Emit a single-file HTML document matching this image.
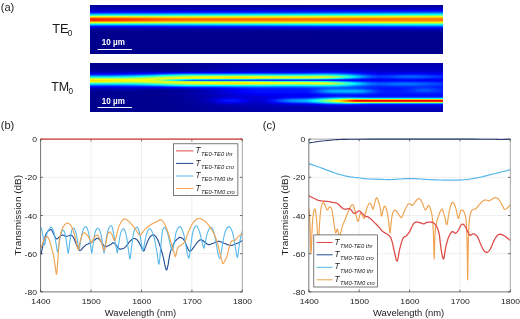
<!DOCTYPE html>
<html><head><meta charset="utf-8"><title>Figure</title>
<style>
html,body{margin:0;padding:0;background:#fff}
body{width:520px;height:319px;position:relative;overflow:hidden;font-family:"Liberation Sans", Arial, sans-serif}
.h{position:absolute;left:90px;width:353px;height:49px}
.h i{display:block;height:1px;width:353px}
svg text{font-family:"Liberation Sans", Arial, sans-serif}
</style></head><body>
<div class="h" style="top:5px"><i style="background:linear-gradient(90deg,#00009a 0%,#00009a 35.71%,#00009b 42.86%,#00009b 71.43%,#00009c 78.57%,#00009c 92.86%,#00009d 100%)"></i><i style="background:linear-gradient(90deg,#0000a0 0%,#0000a0 28.57%,#0000a1 35.71%,#0000a1 50%,#0000a2 57.14%,#0000a2 64.29%,#0000a3 71.43%,#0000a3 78.57%,#0000a4 85.71%,#0000a4 92.86%,#0000a5 100%)"></i><i style="background:linear-gradient(90deg,#0000a7 0%,#0000a7 14.29%,#0000a8 21.43%,#0000a8 28.57%,#0000a9 35.71%,#0000a9 42.86%,#0000aa 50%,#0000ab 57.14%,#0000ac 64.29%,#0000ad 71.43%,#0000ae 78.57%,#0000af 85.71%,#0000b0 92.86%,#0000b1 100%)"></i><i style="background:linear-gradient(90deg,#0000af 0%,#0000b0 7.143%,#0000b1 14.29%,#0000b2 21.43%,#0000b2 28.57%,#0000b4 35.71%,#0000b5 42.86%,#0000b6 50%,#0000b7 57.14%,#0000b9 64.29%,#0000ba 71.43%,#0000bc 78.57%,#0000be 85.71%,#0000c0 92.86%,#0000c1 100%)"></i><i style="background:linear-gradient(90deg,#0000bb 0%,#0000bd 7.143%,#0000be 14.29%,#0000bf 21.43%,#0000c1 28.57%,#0000c3 35.71%,#0000c5 42.86%,#0000c7 50%,#0000c9 57.14%,#0000cc 64.29%,#0000ce 71.43%,#0000d1 78.57%,#0000d3 85.71%,#0000d6 92.86%,#0000d9 100%)"></i><i style="background:linear-gradient(90deg,#0000ce 0%,#0000d0 7.143%,#0000d2 14.29%,#0000d4 21.43%,#0000d7 28.57%,#0000da 35.71%,#0000dd 42.86%,#0000e0 50%,#0000e4 57.14%,#0000e7 64.29%,#0000eb 71.43%,#0000ef 78.57%,#0000f2 85.71%,#0000f6 92.86%,#0000fa 100%)"></i><i style="background:linear-gradient(90deg,#0000ec 0%,#0000f0 7.143%,#0000f2 14.29%,#0000f5 21.43%,#0000f9 28.57%,#0000fd 35.71%,#0003ff 42.86%,#0007ff 50%,#000cff 57.14%,#0011ff 64.29%,#0015ff 71.43%,#001aff 78.57%,#001fff 85.71%,#0024ff 92.86%,#0029ff 100%)"></i><i style="background:linear-gradient(90deg,#001dff 0%,#0022ff 7.143%,#0025ff 14.29%,#0028ff 21.43%,#002cff 28.57%,#0032ff 35.71%,#0038ff 42.86%,#003eff 50%,#0044ff 57.14%,#004aff 64.29%,#004fff 71.43%,#0055ff 78.57%,#005bff 85.71%,#0061ff 92.86%,#0067ff 100%)"></i><i style="background:linear-gradient(90deg,#0067ff 0%,#006cff 7.143%,#006eff 14.29%,#0070ff 21.43%,#0075ff 28.57%,#007cff 35.71%,#0082ff 42.86%,#0089ff 50%,#008fff 57.14%,#0096ff 64.29%,#009cff 71.43%,#00a3ff 78.57%,#00a9ff 85.71%,#00afff 92.86%,#00b5ff 100%)"></i><i style="background:linear-gradient(90deg,#00cdff 0%,#00d1ff 7.143%,#00d1ff 21.43%,#00d4ff 28.57%,#00dbff 35.71%,#00e2ff 42.86%,#00e8ff 50%,#00efff 57.14%,#00f5ff 64.29%,#00fbff 71.43%,#02fffd 78.57%,#08fff7 85.71%,#0dfff2 92.86%,#13ffec 100%)"></i><i style="background:linear-gradient(90deg,#4cffb3 0%,#4effb1 7.143%,#4affb5 14.29%,#45ffba 21.43%,#46ffb9 28.57%,#4cffb3 35.71%,#52ffad 42.86%,#57ffa8 50%,#5dffa2 57.14%,#62ff9d 64.29%,#67ff98 71.43%,#6bff94 78.57%,#70ff8f 85.71%,#74ff8b 92.86%,#78ff87 100%)"></i><i style="background:linear-gradient(90deg,#d7ff28 0%,#d5ff2a 7.143%,#cbff34 14.29%,#c1ff3e 21.43%,#beff41 28.57%,#c2ff3d 35.71%,#c6ff39 42.86%,#c9ff36 50%,#ccff33 57.14%,#d0ff2f 64.29%,#d3ff2c 71.43%,#d5ff2a 78.57%,#d8ff27 85.71%,#dbff24 92.86%,#ddff22 100%)"></i><i style="background:linear-gradient(90deg,#ffa600 0%,#ffac00 7.143%,#ffbc00 14.29%,#ffcc00 21.43%,#ffd300 28.57%,#ffd100 35.71%,#ffd000 42.86%,#ffcf00 50%,#ffce00 57.14%,#ffcd00 64.29%,#ffcc00 71.43%,#ffcc00 78.57%,#ffcb00 85.71%,#ffcb00 92.86%,#ffca00 100%)"></i><i style="background:linear-gradient(90deg,#ff4700 0%,#ff5100 7.143%,#ff6500 14.29%,#ff7a00 21.43%,#ff8400 28.57%,#ff8500 35.71%,#ff8500 42.86%,#ff8600 50%,#ff8700 57.14%,#ff8800 64.29%,#ff8900 71.43%,#ff8a00 78.57%,#ff8b00 85.71%,#ff8c00 92.86%,#ff8e00 100%)"></i><i style="background:linear-gradient(90deg,#ff1f00 0%,#ff2a00 7.143%,#ff4100 14.29%,#ff5800 21.43%,#ff6300 28.57%,#ff6500 35.71%,#ff6700 42.86%,#ff6800 50%,#ff6a00 57.14%,#ff6c00 64.29%,#ff6e00 71.43%,#ff7000 78.57%,#ff7100 85.71%,#ff7300 92.86%,#ff7500 100%)"></i><i style="background:linear-gradient(90deg,#ff3700 0%,#ff4200 7.143%,#ff5800 14.29%,#ff6e00 21.43%,#ff7800 28.57%,#ff7900 35.71%,#ff7a00 42.86%,#ff7c00 50%,#ff7d00 57.14%,#ff7e00 64.29%,#ff8000 71.43%,#ff8100 78.57%,#ff8200 85.71%,#ff8400 92.86%,#ff8500 100%)"></i><i style="background:linear-gradient(90deg,#ff8c00 0%,#ff9300 7.143%,#ffa500 14.29%,#ffb700 21.43%,#ffbe00 28.57%,#ffbe00 35.71%,#ffbd00 42.86%,#ffbd00 50%,#ffbc00 57.14%,#ffbc00 100%)"></i><i style="background:linear-gradient(90deg,#f4ff0b 0%,#f1ff0e 7.143%,#e5ff1a 14.29%,#d9ff26 21.43%,#d5ff2a 28.57%,#d8ff27 35.71%,#dbff24 42.86%,#deff21 50%,#e0ff1f 57.14%,#e3ff1c 64.29%,#e5ff1a 71.43%,#e7ff18 78.57%,#e9ff16 85.71%,#ebff14 92.86%,#edff12 100%)"></i><i style="background:linear-gradient(90deg,#64ff9b 0%,#65ff9a 7.143%,#60ff9f 14.29%,#59ffa6 21.43%,#59ffa6 28.57%,#5fffa0 35.71%,#64ff9b 42.86%,#69ff96 50%,#6dff92 57.14%,#72ff8d 64.29%,#76ff89 71.43%,#7aff85 78.57%,#7fff80 85.71%,#82ff7d 92.86%,#86ff79 100%)"></i><i style="background:linear-gradient(90deg,#00daff 0%,#00deff 7.143%,#00ddff 14.29%,#00dbff 21.43%,#00deff 28.57%,#00e5ff 35.71%,#00ebff 42.86%,#00f1ff 50%,#00f8ff 57.14%,#00feff 64.29%,#04fffb 71.43%,#0afff5 78.57%,#10ffef 85.71%,#15ffea 92.86%,#1affe5 100%)"></i><i style="background:linear-gradient(90deg,#0067ff 0%,#006cff 7.143%,#006eff 14.29%,#006fff 21.43%,#0073ff 28.57%,#007aff 35.71%,#0081ff 42.86%,#0088ff 50%,#008eff 57.14%,#0095ff 64.29%,#009bff 71.43%,#00a1ff 78.57%,#00a8ff 85.71%,#00aeff 92.86%,#00b3ff 100%)"></i><i style="background:linear-gradient(90deg,#0010ff 0%,#0015ff 7.143%,#0018ff 14.29%,#001bff 21.43%,#001fff 28.57%,#0026ff 35.71%,#002cff 42.86%,#0032ff 50%,#0038ff 57.14%,#003eff 64.29%,#0044ff 71.43%,#004aff 78.57%,#0050ff 85.71%,#0056ff 92.86%,#005cff 100%)"></i><i style="background:linear-gradient(90deg,#0000d5 0%,#0000d9 7.143%,#0000dc 14.29%,#0000df 21.43%,#0000e3 28.57%,#0000e8 35.71%,#0000ed 42.86%,#0000f2 50%,#0000f7 57.14%,#0000fc 64.29%,#0002ff 71.43%,#0007ff 78.57%,#000cff 85.71%,#0012ff 92.86%,#0017ff 100%)"></i><i style="background:linear-gradient(90deg,#0000b2 0%,#0000b4 7.143%,#0000b7 14.29%,#0000b9 21.43%,#0000bc 28.57%,#0000bf 35.71%,#0000c3 42.86%,#0000c7 50%,#0000ca 57.14%,#0000ce 64.29%,#0000d2 71.43%,#0000d6 78.57%,#0000da 85.71%,#0000de 92.86%,#0000e3 100%)"></i><i style="background:linear-gradient(90deg,#00009e 0%,#0000a0 7.143%,#0000a1 14.29%,#0000a3 21.43%,#0000a4 28.57%,#0000a7 35.71%,#0000a9 42.86%,#0000ac 50%,#0000ae 57.14%,#0000b1 64.29%,#0000b4 71.43%,#0000b6 78.57%,#0000b9 85.71%,#0000bc 92.86%,#0000c0 100%)"></i><i style="background:linear-gradient(90deg,#000094 0%,#000095 7.143%,#000096 14.29%,#000096 21.43%,#000098 28.57%,#000099 35.71%,#00009a 42.86%,#00009c 50%,#00009d 57.14%,#00009f 64.29%,#0000a1 71.43%,#0000a3 78.57%,#0000a5 85.71%,#0000a7 92.86%,#0000a9 100%)"></i><i style="background:linear-gradient(90deg,#00008f 0%,#00008f 7.143%,#000090 14.29%,#000090 21.43%,#000091 28.57%,#000092 35.71%,#000093 42.86%,#000093 50%,#000094 57.14%,#000095 64.29%,#000096 71.43%,#000097 78.57%,#000099 85.71%,#00009a 92.86%,#00009b 100%)"></i><i style="background:linear-gradient(90deg,#00008d 0%,#00008d 14.29%,#00008e 21.43%,#00008e 35.71%,#00008f 42.86%,#00008f 50%,#000090 57.14%,#000090 64.29%,#000091 71.43%,#000091 78.57%,#000092 85.71%,#000093 92.86%,#000094 100%)"></i><i style="background:linear-gradient(90deg,#00008c 0%,#00008c 21.43%,#00008d 28.57%,#00008d 57.14%,#00008e 64.29%,#00008e 78.57%,#00008f 85.71%,#00008f 100%)"></i><i style="background:linear-gradient(90deg,#00008c 0%,#00008c 57.14%,#00008d 64.29%,#00008d 100%)"></i><i style="background:#00008c"></i><i style="background:#00008c"></i><i style="background:#00008c"></i><i style="background:#00008c"></i><i style="background:#00008c"></i><i style="background:#00008c"></i><i style="background:#00008c"></i><i style="background:#00008c"></i><i style="background:#00008c"></i><i style="background:#00008c"></i><i style="background:#00008c"></i><i style="background:#00008c"></i><i style="background:#00008c"></i><i style="background:#00008c"></i><i style="background:#00008c"></i><i style="background:#00008c"></i><i style="background:#00008c"></i><i style="background:#00008c"></i><i style="background:#00008c"></i></div>
<div class="h" style="top:63px"><i style="background:linear-gradient(90deg,#00008f 0%,#00008f 18.18%,#000090 20.45%,#000091 22.73%,#000093 25%,#000096 27.27%,#000098 29.55%,#00009b 31.82%,#00009f 34.09%,#0000a2 36.36%,#0000a5 38.64%,#0000a8 40.91%,#0000aa 43.18%,#0000ad 45.45%,#0000ae 47.73%,#0000af 50%,#0000b0 52.27%,#0000b1 54.55%,#0000b2 56.82%,#0000b2 100%)"></i><i style="background:linear-gradient(90deg,#00008f 0%,#00008f 18.18%,#000090 20.45%,#000091 22.73%,#000093 25%,#000096 27.27%,#000099 29.55%,#00009c 31.82%,#0000a0 34.09%,#0000a3 36.36%,#0000a6 38.64%,#0000a9 40.91%,#0000ac 43.18%,#0000af 45.45%,#0000b0 47.73%,#0000b1 50%,#0000b3 52.27%,#0000b3 54.55%,#0000b4 56.82%,#0000b4 100%)"></i><i style="background:linear-gradient(90deg,#00008f 0%,#00008f 18.18%,#000090 20.45%,#000092 22.73%,#000094 25%,#000097 27.27%,#00009a 29.55%,#00009d 31.82%,#0000a1 34.09%,#0000a5 36.36%,#0000a8 38.64%,#0000ab 40.91%,#0000ae 43.18%,#0000b1 45.45%,#0000b2 47.73%,#0000b4 50%,#0000b5 52.27%,#0000b6 54.55%,#0000b6 100%)"></i><i style="background:linear-gradient(90deg,#00008f 0%,#00008f 6.818%,#000090 9.091%,#000090 11.36%,#00008f 13.64%,#00008f 18.18%,#000090 20.45%,#000092 22.73%,#000094 25%,#000097 27.27%,#00009b 29.55%,#00009e 31.82%,#0000a2 34.09%,#0000a6 36.36%,#0000aa 38.64%,#0000ad 40.91%,#0000b1 43.18%,#0000b3 45.45%,#0000b5 47.73%,#0000b6 50%,#0000b7 52.27%,#0000b8 54.55%,#0000b8 56.82%,#0000b9 59.09%,#0000b9 100%)"></i><i style="background:linear-gradient(90deg,#000090 0%,#000090 6.818%,#000091 9.091%,#000091 11.36%,#000090 13.64%,#00008f 15.91%,#00008f 18.18%,#000090 20.45%,#000092 22.73%,#000095 25%,#000098 27.27%,#00009c 29.55%,#0000a0 31.82%,#0000a4 34.09%,#0000a8 36.36%,#0000ac 38.64%,#0000b0 40.91%,#0000b3 43.18%,#0000b6 45.45%,#0000b7 47.73%,#0000b9 50%,#0000ba 52.27%,#0000bb 54.55%,#0000bb 100%)"></i><i style="background:linear-gradient(90deg,#000092 0%,#000092 6.818%,#000093 9.091%,#000093 11.36%,#000092 13.64%,#000091 15.91%,#000090 18.18%,#000091 20.45%,#000093 22.73%,#000095 25%,#000099 27.27%,#00009d 29.55%,#0000a1 31.82%,#0000a5 34.09%,#0000aa 36.36%,#0000ae 38.64%,#0000b2 40.91%,#0000b6 43.18%,#0000b8 45.45%,#0000ba 47.73%,#0000bb 50%,#0000bc 52.27%,#0000bd 54.55%,#0000be 56.82%,#0000be 100%)"></i><i style="background:linear-gradient(90deg,#000096 0%,#000096 4.545%,#000097 6.818%,#000098 9.091%,#000098 11.36%,#000097 13.64%,#000095 15.91%,#000093 18.18%,#000093 20.45%,#000095 22.73%,#000097 25%,#00009b 27.27%,#00009f 29.55%,#0000a3 31.82%,#0000a8 34.09%,#0000ad 36.36%,#0000b1 38.64%,#0000b5 40.91%,#0000b9 43.18%,#0000bc 45.45%,#0000be 47.73%,#0000bf 50%,#0000c0 52.27%,#0000c1 54.55%,#0000c1 56.82%,#0000c2 59.09%,#0000c2 63.64%,#0000c3 65.91%,#0000c3 75%,#0000c2 77.27%,#0000c2 79.55%,#0000c1 81.82%,#0000c1 100%)"></i><i style="background:linear-gradient(90deg,#00009d 0%,#00009d 4.545%,#00009f 6.818%,#0000a1 9.091%,#0000a2 11.36%,#0000a0 13.64%,#00009d 15.91%,#00009b 18.18%,#00009b 20.45%,#00009c 22.73%,#00009e 25%,#0000a1 27.27%,#0000a5 29.55%,#0000aa 31.82%,#0000ae 34.09%,#0000b3 36.36%,#0000b8 38.64%,#0000bc 40.91%,#0000c0 43.18%,#0000c3 45.45%,#0000c5 47.73%,#0000c6 50%,#0000c7 52.27%,#0000c8 54.55%,#0000c9 56.82%,#0000c9 59.09%,#0000ca 61.36%,#0000cb 63.64%,#0000cd 65.91%,#0000ce 68.18%,#0000ce 70.45%,#0000cd 72.73%,#0000cb 75%,#0000c9 77.27%,#0000c7 79.55%,#0000c6 81.82%,#0000c6 100%)"></i><i style="background:linear-gradient(90deg,#0000aa 0%,#0000aa 4.545%,#0000ad 6.818%,#0000b1 9.091%,#0000b3 11.36%,#0000b2 13.64%,#0000b0 15.91%,#0000ae 18.18%,#0000ae 20.45%,#0000b0 22.73%,#0000b4 25%,#0000b7 27.27%,#0000bb 29.55%,#0000bf 31.82%,#0000c3 34.09%,#0000c7 36.36%,#0000cc 38.64%,#0000d0 40.91%,#0000d4 43.18%,#0000d7 45.45%,#0000d9 47.73%,#0000d9 50%,#0000da 52.27%,#0000db 54.55%,#0000dc 56.82%,#0000dd 59.09%,#0000e0 61.36%,#0000e2 63.64%,#0000e6 65.91%,#0000e7 68.18%,#0000e6 70.45%,#0000e3 72.73%,#0000dd 75%,#0000d7 77.27%,#0000d2 79.55%,#0000ce 81.82%,#0000ce 84.09%,#0000cf 86.36%,#0000cf 95.45%,#0000ce 97.73%,#0000cd 100%)"></i><i style="background:linear-gradient(90deg,#0000c1 0%,#0000c1 4.545%,#0000c5 6.818%,#0000cb 9.091%,#0000cf 11.36%,#0000d0 13.64%,#0000d1 15.91%,#0000d3 18.18%,#0000d7 20.45%,#0000df 22.73%,#0000e6 25%,#0000ec 27.27%,#0000f0 29.55%,#0000f2 31.82%,#0000f4 34.09%,#0000f7 36.36%,#0000fa 38.64%,#0000ff 40.91%,#0003ff 43.18%,#0006ff 45.45%,#0007ff 47.73%,#0007ff 50%,#0006ff 52.27%,#0006ff 54.55%,#0007ff 56.82%,#000aff 59.09%,#000eff 61.36%,#0013ff 63.64%,#0018ff 65.91%,#001aff 68.18%,#0015ff 70.45%,#000bff 72.73%,#0000fd 75%,#0000ef 77.27%,#0000e3 79.55%,#0000dc 81.82%,#0000db 84.09%,#0000dd 86.36%,#0000df 88.64%,#0000e0 90.91%,#0000df 93.18%,#0000dd 95.45%,#0000db 97.73%,#0000d9 100%)"></i><i style="background:linear-gradient(90deg,#0000e6 0%,#0000e6 4.545%,#0000eb 6.818%,#0000f3 9.091%,#0000fa 11.36%,#0000ff 13.64%,#0007ff 15.91%,#0011ff 18.18%,#001fff 20.45%,#0030ff 22.73%,#0040ff 25%,#004aff 27.27%,#004eff 29.55%,#004cff 31.82%,#004aff 34.09%,#004aff 36.36%,#004dff 38.64%,#0051ff 40.91%,#0054ff 43.18%,#0055ff 45.45%,#0054ff 47.73%,#0053ff 50%,#0051ff 52.27%,#0050ff 54.55%,#0051ff 56.82%,#0054ff 59.09%,#0059ff 61.36%,#005fff 63.64%,#0066ff 65.91%,#0065ff 68.18%,#0059ff 70.45%,#0045ff 72.73%,#002cff 75%,#0012ff 77.27%,#0000fb 79.55%,#0000ef 81.82%,#0000ef 84.09%,#0000f5 86.36%,#0000f9 88.64%,#0000fa 90.91%,#0000f8 93.18%,#0000f3 95.45%,#0000ee 97.73%,#0000ea 100%)"></i><i style="background:linear-gradient(90deg,#001eff 0%,#001eff 2.273%,#001fff 4.545%,#0024ff 6.818%,#002eff 9.091%,#0038ff 11.36%,#0044ff 13.64%,#0054ff 15.91%,#0069ff 18.18%,#0082ff 20.45%,#009fff 22.73%,#00b7ff 25%,#00c4ff 27.27%,#00c9ff 29.55%,#00c5ff 31.82%,#00c0ff 34.09%,#00beff 36.36%,#00bfff 38.64%,#00c3ff 40.91%,#00c5ff 43.18%,#00c4ff 45.45%,#00c2ff 47.73%,#00beff 50%,#00baff 52.27%,#00b7ff 54.55%,#00b7ff 56.82%,#00baff 59.09%,#00c0ff 61.36%,#00c6ff 63.64%,#00cdff 65.91%,#00c9ff 68.18%,#00b3ff 70.45%,#0090ff 72.73%,#0067ff 75%,#003dff 77.27%,#001cff 79.55%,#0009ff 81.82%,#000bff 84.09%,#0015ff 86.36%,#001eff 88.64%,#0021ff 90.91%,#001cff 93.18%,#0013ff 95.45%,#0009ff 97.73%,#0001ff 100%)"></i><i style="background:linear-gradient(90deg,#006bff 0%,#006bff 4.545%,#0070ff 6.818%,#007aff 9.091%,#0088ff 11.36%,#009bff 13.64%,#00b4ff 15.91%,#00d2ff 18.18%,#00f5ff 20.45%,#18ffe7 22.73%,#35ffca 25%,#48ffb7 27.27%,#51ffae 29.55%,#52ffad 31.82%,#51ffae 34.09%,#51ffae 36.36%,#54ffab 38.64%,#57ffa8 40.91%,#58ffa7 43.18%,#55ffaa 45.45%,#50ffaf 47.73%,#49ffb6 50%,#43ffbc 52.27%,#3effc1 54.55%,#3cffc3 56.82%,#3effc1 59.09%,#43ffbc 61.36%,#4affb5 63.64%,#50ffaf 65.91%,#46ffb9 68.18%,#23ffdc 70.45%,#00edff 72.73%,#00afff 75%,#0072ff 77.27%,#0041ff 79.55%,#0026ff 81.82%,#002aff 84.09%,#0039ff 86.36%,#0047ff 88.64%,#004bff 90.91%,#0044ff 93.18%,#0036ff 95.45%,#0026ff 97.73%,#001bff 100%)"></i><i style="background:linear-gradient(90deg,#00ccff 0%,#00cbff 2.273%,#00cbff 4.545%,#00cfff 6.818%,#00d8ff 9.091%,#00e7ff 11.36%,#00ffff 13.64%,#1dffe2 15.91%,#40ffbf 18.18%,#62ff9d 20.45%,#83ff7c 22.73%,#9fff60 25%,#b4ff4b 27.27%,#c5ff3a 29.55%,#ceff31 31.82%,#d6ff29 34.09%,#dcff23 36.36%,#e2ff1d 38.64%,#e6ff19 40.91%,#e4ff1b 43.18%,#e0ff1f 45.45%,#d8ff27 47.73%,#cfff30 50%,#c6ff39 52.27%,#beff41 54.55%,#baff45 56.82%,#baff45 59.09%,#bdff42 61.36%,#c0ff3f 63.64%,#c3ff3c 65.91%,#b0ff4f 68.18%,#7dff82 70.45%,#36ffc9 72.73%,#00e4ff 75%,#0097ff 77.27%,#005aff 79.55%,#0039ff 81.82%,#003eff 84.09%,#0051ff 86.36%,#0060ff 88.64%,#0066ff 90.91%,#005dff 93.18%,#004cff 95.45%,#003aff 97.73%,#002cff 100%)"></i><i style="background:linear-gradient(90deg,#3cffc3 0%,#3affc5 2.273%,#39ffc6 4.545%,#3bffc4 6.818%,#40ffbf 9.091%,#4effb1 11.36%,#64ff9b 13.64%,#7fff80 15.91%,#9cff63 18.18%,#b6ff49 20.45%,#cdff32 22.73%,#e0ff1f 25%,#eeff11 27.27%,#f8ff07 29.55%,#fffe00 31.82%,#fff800 34.09%,#fff200 36.36%,#ffed00 38.64%,#ffea00 40.91%,#ffec00 43.18%,#fff100 45.45%,#fffa00 47.73%,#faff05 50%,#f0ff0f 52.27%,#e7ff18 54.55%,#e1ff1e 56.82%,#deff21 59.09%,#dcff23 61.36%,#d9ff26 63.64%,#d3ff2c 65.91%,#b4ff4b 68.18%,#75ff8a 70.45%,#25ffda 72.73%,#00d1ff 75%,#0086ff 77.27%,#004eff 79.55%,#0031ff 81.82%,#0035ff 84.09%,#0047ff 86.36%,#0056ff 88.64%,#005bff 90.91%,#0053ff 93.18%,#0043ff 95.45%,#0032ff 97.73%,#0025ff 100%)"></i><i style="background:linear-gradient(90deg,#a9ff56 0%,#a7ff58 2.273%,#a4ff5b 4.545%,#a3ff5c 6.818%,#a3ff5c 9.091%,#abff54 11.36%,#b9ff46 13.64%,#caff35 15.91%,#d8ff27 18.18%,#e2ff1d 20.45%,#e7ff18 22.73%,#e7ff18 25%,#e0ff1f 27.27%,#d8ff27 29.55%,#d1ff2e 31.82%,#cbff34 34.09%,#c7ff38 36.36%,#c5ff3a 38.64%,#c5ff3a 40.91%,#c0ff3f 43.18%,#b8ff47 45.45%,#adff52 47.73%,#a2ff5d 50%,#98ff67 52.27%,#90ff6f 54.55%,#8bff74 56.82%,#87ff78 59.09%,#82ff7d 61.36%,#73ff8c 63.64%,#5cffa3 65.91%,#32ffcd 68.18%,#00f3ff 70.45%,#00b2ff 72.73%,#0076ff 75%,#0045ff 77.27%,#0023ff 79.55%,#0013ff 81.82%,#0017ff 84.09%,#0024ff 86.36%,#002fff 88.64%,#0033ff 90.91%,#002dff 93.18%,#0021ff 95.45%,#0014ff 97.73%,#000bff 100%)"></i><i style="background:linear-gradient(90deg,#ffff00 0%,#fdff02 2.273%,#f8ff07 4.545%,#f4ff0b 6.818%,#efff10 9.091%,#eeff11 11.36%,#f0ff0f 13.64%,#f2ff0d 15.91%,#e4ff1b 18.18%,#b7ff48 20.45%,#7bff84 22.73%,#37ffc8 25%,#00fcff 27.27%,#00dbff 29.55%,#00d4ff 31.82%,#00cdff 34.09%,#00c6ff 36.36%,#00c0ff 38.64%,#00bcff 40.91%,#00b5ff 43.18%,#00acff 45.45%,#00a2ff 47.73%,#0099ff 50%,#0092ff 52.27%,#008fff 54.55%,#008dff 56.82%,#008cff 59.09%,#0089ff 61.36%,#007eff 63.64%,#0071ff 65.91%,#005eff 68.18%,#0046ff 70.45%,#002eff 72.73%,#0019ff 75%,#0008ff 77.27%,#0000fb 79.55%,#0000f7 81.82%,#0000fc 84.09%,#0005ff 86.36%,#000cff 88.64%,#000dff 90.91%,#0009ff 93.18%,#0002ff 95.45%,#0000f9 97.73%,#0000f2 100%)"></i><i style="background:linear-gradient(90deg,#ffdb00 0%,#ffdd00 2.273%,#ffe300 4.545%,#ffea00 6.818%,#fff200 9.091%,#fffa00 11.36%,#feff01 13.64%,#faff05 15.91%,#dbff24 18.18%,#93ff6c 20.45%,#38ffc7 22.73%,#00d8ff 25%,#0088ff 27.27%,#0060ff 29.55%,#005eff 31.82%,#005cff 34.09%,#0058ff 36.36%,#0056ff 38.64%,#0053ff 40.91%,#004eff 43.18%,#0048ff 45.45%,#0041ff 47.73%,#003bff 50%,#0036ff 52.27%,#0035ff 54.55%,#0034ff 56.82%,#0034ff 59.09%,#0033ff 61.36%,#0030ff 63.64%,#002dff 65.91%,#0027ff 68.18%,#001dff 70.45%,#0012ff 72.73%,#0007ff 75%,#0000fd 77.27%,#0000f7 79.55%,#0000f5 81.82%,#0000fa 84.09%,#0001ff 86.36%,#0005ff 88.64%,#0005ff 90.91%,#0002ff 93.18%,#0000fb 95.45%,#0000f4 97.73%,#0000ef 100%)"></i><i style="background:linear-gradient(90deg,#f8ff07 0%,#f6ff09 2.273%,#f1ff0e 4.545%,#eaff15 6.818%,#e3ff1c 9.091%,#e0ff1f 11.36%,#e2ff1d 13.64%,#e6ff19 15.91%,#e5ff1a 18.18%,#dcff23 20.45%,#d1ff2e 22.73%,#c0ff3f 25%,#aaff55 27.27%,#99ff66 29.55%,#90ff6f 31.82%,#87ff78 34.09%,#7fff80 36.36%,#7bff84 38.64%,#78ff87 40.91%,#71ff8e 43.18%,#68ff97 45.45%,#5cffa3 47.73%,#50ffaf 50%,#47ffb8 52.27%,#41ffbe 54.55%,#3dffc2 56.82%,#3affc5 59.09%,#34ffcb 61.36%,#22ffdd 63.64%,#0afff5 65.91%,#00e2ff 68.18%,#00b1ff 70.45%,#007fff 72.73%,#0054ff 75%,#0032ff 77.27%,#001cff 79.55%,#0013ff 81.82%,#0017ff 84.09%,#001eff 86.36%,#0022ff 88.64%,#0021ff 90.91%,#001cff 93.18%,#0014ff 95.45%,#000cff 97.73%,#0006ff 100%)"></i><i style="background:linear-gradient(90deg,#9eff61 0%,#9dff62 2.273%,#99ff66 4.545%,#95ff6a 6.818%,#91ff6e 9.091%,#95ff6a 11.36%,#a0ff5f 13.64%,#afff50 15.91%,#c0ff3f 18.18%,#d1ff2e 20.45%,#e1ff1e 22.73%,#eeff11 25%,#f6ff09 27.27%,#fbff04 29.55%,#feff01 31.82%,#fffc00 34.09%,#fff900 36.36%,#fff500 38.64%,#fff100 40.91%,#fff300 43.18%,#fff800 45.45%,#fdff02 47.73%,#f2ff0d 50%,#e8ff17 52.27%,#e0ff1f 54.55%,#d9ff26 56.82%,#d5ff2a 59.09%,#d2ff2d 61.36%,#cbff34 63.64%,#bfff40 65.91%,#9aff65 68.18%,#59ffa6 70.45%,#0cfff3 72.73%,#00bfff 75%,#0080ff 77.27%,#0053ff 79.55%,#003dff 81.82%,#0041ff 84.09%,#004bff 86.36%,#0051ff 88.64%,#004fff 90.91%,#0047ff 93.18%,#003cff 95.45%,#0030ff 97.73%,#0026ff 100%)"></i><i style="background:linear-gradient(90deg,#30ffcf 0%,#2fffd0 2.273%,#2dffd2 4.545%,#2cffd3 6.818%,#2cffd3 9.091%,#34ffcb 11.36%,#44ffbb 13.64%,#59ffa6 15.91%,#73ff8c 18.18%,#8eff71 20.45%,#a8ff57 22.73%,#c0ff3f 25%,#d6ff29 27.27%,#e7ff18 29.55%,#f4ff0b 31.82%,#feff01 34.09%,#fff700 36.36%,#ffef00 38.64%,#ffea00 40.91%,#ffeb00 43.18%,#ffef00 45.45%,#fff700 47.73%,#fdff02 50%,#f4ff0b 52.27%,#ebff14 54.55%,#e6ff19 56.82%,#e4ff1b 59.09%,#e6ff19 61.36%,#e7ff18 63.64%,#e7ff18 65.91%,#d0ff2f 68.18%,#98ff67 70.45%,#4dffb2 72.73%,#00faff 75%,#00afff 77.27%,#0077ff 79.55%,#005bff 81.82%,#005fff 84.09%,#006cff 86.36%,#0073ff 88.64%,#0071ff 90.91%,#0067ff 93.18%,#0058ff 95.45%,#0049ff 97.73%,#003dff 100%)"></i><i style="background:linear-gradient(90deg,#00c2ff 0%,#00c1ff 2.273%,#00c0ff 4.545%,#00c1ff 6.818%,#00c5ff 9.091%,#00ceff 11.36%,#00ddff 13.64%,#00f2ff 15.91%,#0dfff2 18.18%,#2bffd4 20.45%,#4affb5 22.73%,#66ff99 25%,#7cff83 27.27%,#8aff75 29.55%,#91ff6e 31.82%,#95ff6a 34.09%,#9bff64 36.36%,#a1ff5e 38.64%,#a6ff59 40.91%,#a8ff57 43.18%,#a5ff5a 45.45%,#a0ff5f 47.73%,#98ff67 50%,#91ff6e 52.27%,#8aff75 54.55%,#87ff78 56.82%,#89ff76 59.09%,#8eff71 61.36%,#93ff6c 63.64%,#99ff66 65.91%,#8cff73 68.18%,#63ff9c 70.45%,#27ffd8 72.73%,#00e3ff 75%,#00a2ff 77.27%,#0071ff 79.55%,#0058ff 81.82%,#005dff 84.09%,#006aff 86.36%,#0070ff 88.64%,#006fff 90.91%,#0065ff 93.18%,#0056ff 95.45%,#0047ff 97.73%,#003bff 100%)"></i><i style="background:linear-gradient(90deg,#0063ff 0%,#0062ff 2.273%,#0062ff 4.545%,#0064ff 6.818%,#006aff 9.091%,#0072ff 11.36%,#007cff 13.64%,#008bff 15.91%,#009fff 18.18%,#00b7ff 20.45%,#00d3ff 22.73%,#00edff 25%,#00feff 27.27%,#07fff8 29.55%,#06fff9 31.82%,#04fffb 34.09%,#06fff9 36.36%,#0afff5 38.64%,#11ffee 40.91%,#15ffea 43.18%,#15ffea 45.45%,#13ffec 47.73%,#0efff1 50%,#09fff6 52.27%,#05fffa 54.55%,#05fffa 56.82%,#08fff7 59.09%,#0dfff2 61.36%,#14ffeb 63.64%,#1bffe4 65.91%,#15ffea 68.18%,#00faff 70.45%,#00d1ff 72.73%,#00a2ff 75%,#0075ff 77.27%,#0051ff 79.55%,#0040ff 81.82%,#0044ff 84.09%,#004eff 86.36%,#0054ff 88.64%,#0053ff 90.91%,#004cff 93.18%,#0041ff 95.45%,#0035ff 97.73%,#002aff 100%)"></i><i style="background:linear-gradient(90deg,#0018ff 0%,#0018ff 4.545%,#001bff 6.818%,#0021ff 9.091%,#0026ff 11.36%,#002bff 13.64%,#0032ff 15.91%,#003cff 18.18%,#004bff 20.45%,#005eff 22.73%,#0071ff 25%,#007eff 27.27%,#0084ff 29.55%,#0084ff 34.09%,#0087ff 36.36%,#008eff 38.64%,#0096ff 40.91%,#009dff 43.18%,#00a0ff 45.45%,#00a0ff 47.73%,#009eff 50%,#009cff 52.27%,#009aff 54.55%,#009aff 56.82%,#009dff 59.09%,#00a3ff 61.36%,#00aaff 63.64%,#00b2ff 65.91%,#00b1ff 68.18%,#00a3ff 70.45%,#008aff 72.73%,#006cff 75%,#004eff 77.27%,#0035ff 79.55%,#0028ff 81.82%,#002aff 84.09%,#0030ff 86.36%,#0034ff 88.64%,#0036ff 90.91%,#0037ff 93.18%,#0031ff 95.45%,#0026ff 97.73%,#001cff 100%)"></i><i style="background:linear-gradient(90deg,#0000e1 0%,#0000e1 2.273%,#0000e2 4.545%,#0000e5 6.818%,#0000ea 9.091%,#0000ed 11.36%,#0000ed 13.64%,#0000ee 15.91%,#0000f0 18.18%,#0000f5 20.45%,#0000ff 22.73%,#000bff 25%,#0014ff 27.27%,#001bff 29.55%,#001eff 31.82%,#0023ff 34.09%,#002bff 36.36%,#0035ff 38.64%,#003fff 40.91%,#0048ff 43.18%,#004eff 45.45%,#0051ff 47.73%,#0050ff 50%,#004fff 52.27%,#004fff 54.55%,#0050ff 56.82%,#0053ff 59.09%,#0058ff 61.36%,#0061ff 63.64%,#006dff 65.91%,#0073ff 68.18%,#006dff 70.45%,#0060ff 72.73%,#004fff 75%,#003bff 77.27%,#0027ff 79.55%,#001aff 81.82%,#0019ff 84.09%,#001cff 86.36%,#0020ff 88.64%,#0027ff 90.91%,#0031ff 93.18%,#0032ff 95.45%,#0025ff 97.73%,#0017ff 100%)"></i><i style="background:linear-gradient(90deg,#0000be 0%,#0000be 4.545%,#0000c1 6.818%,#0000c5 9.091%,#0000c6 11.36%,#0000c4 13.64%,#0000c1 15.91%,#0000bf 18.18%,#0000bf 20.45%,#0000c3 22.73%,#0000c8 25%,#0000cf 27.27%,#0000d6 29.55%,#0000dc 31.82%,#0000e5 34.09%,#0000f0 36.36%,#0000fd 38.64%,#000bff 40.91%,#0017ff 43.18%,#001fff 45.45%,#0023ff 47.73%,#0024ff 50%,#0024ff 54.55%,#0025ff 56.82%,#0028ff 59.09%,#002bff 61.36%,#003aff 63.64%,#0050ff 65.91%,#0061ff 68.18%,#0061ff 70.45%,#005cff 72.73%,#0054ff 75%,#0044ff 77.27%,#002cff 79.55%,#0018ff 81.82%,#0013ff 84.09%,#0014ff 86.36%,#0019ff 88.64%,#0027ff 90.91%,#003dff 93.18%,#0043ff 95.45%,#002fff 97.73%,#001aff 100%)"></i><i style="background:linear-gradient(90deg,#0000a8 0%,#0000a8 4.545%,#0000aa 6.818%,#0000ad 9.091%,#0000ad 11.36%,#0000ab 13.64%,#0000a7 15.91%,#0000a3 18.18%,#0000a3 20.45%,#0000a5 22.73%,#0000a9 25%,#0000af 27.27%,#0000b6 29.55%,#0000be 31.82%,#0000c9 34.09%,#0000d7 36.36%,#0000e6 38.64%,#0000f5 40.91%,#0003ff 43.18%,#000dff 45.45%,#0013ff 47.73%,#0014ff 50%,#0015ff 52.27%,#0015ff 54.55%,#0016ff 56.82%,#0017ff 59.09%,#0019ff 61.36%,#0033ff 63.64%,#005cff 65.91%,#007cff 68.18%,#0082ff 70.45%,#0081ff 72.73%,#007fff 75%,#006bff 77.27%,#0043ff 79.55%,#001fff 81.82%,#0014ff 84.09%,#0015ff 86.36%,#001aff 88.64%,#002eff 90.91%,#004dff 93.18%,#0057ff 95.45%,#003dff 97.73%,#0021ff 100%)"></i><i style="background:linear-gradient(90deg,#00009c 0%,#00009c 4.545%,#00009d 6.818%,#00009f 9.091%,#00009f 11.36%,#00009c 13.64%,#000099 15.91%,#000097 18.18%,#000097 20.45%,#000099 22.73%,#00009e 25%,#0000a4 27.27%,#0000ac 29.55%,#0000b4 31.82%,#0000c0 34.09%,#0000cf 36.36%,#0000df 38.64%,#0000f0 40.91%,#0000ff 43.18%,#000bff 45.45%,#0011ff 47.73%,#0012ff 50%,#0013ff 52.27%,#0014ff 54.55%,#0014ff 56.82%,#0015ff 59.09%,#0017ff 61.36%,#003bff 63.64%,#0077ff 65.91%,#00a7ff 68.18%,#00b0ff 70.45%,#00b1ff 72.73%,#00b0ff 75%,#0097ff 77.27%,#005eff 79.55%,#0029ff 81.82%,#0019ff 84.09%,#0019ff 86.36%,#001fff 88.64%,#0032ff 90.91%,#0052ff 93.18%,#005cff 95.45%,#0042ff 97.73%,#0026ff 100%)"></i><i style="background:linear-gradient(90deg,#000095 0%,#000095 4.545%,#000096 6.818%,#000097 9.091%,#000097 11.36%,#000095 13.64%,#000093 15.91%,#000091 18.18%,#000093 20.45%,#000096 22.73%,#00009b 25%,#0000a2 27.27%,#0000a9 29.55%,#0000b1 31.82%,#0000bd 34.09%,#0000cc 36.36%,#0000de 38.64%,#0000ef 40.91%,#0000fe 43.18%,#000aff 45.45%,#0010ff 47.73%,#0011ff 50%,#0012ff 52.27%,#0013ff 54.55%,#0014ff 56.82%,#0014ff 59.09%,#0016ff 61.36%,#003cff 63.64%,#007cff 65.91%,#00b0ff 68.18%,#00baff 70.45%,#00bcff 72.73%,#00bcff 75%,#00a1ff 77.27%,#0065ff 79.55%,#002dff 81.82%,#001bff 84.09%,#001cff 86.36%,#0020ff 88.64%,#002eff 90.91%,#0045ff 93.18%,#004dff 95.45%,#003aff 97.73%,#0025ff 100%)"></i><i style="background:linear-gradient(90deg,#000092 0%,#000092 6.818%,#000093 9.091%,#000092 11.36%,#000091 13.64%,#000090 15.91%,#000090 18.18%,#000091 20.45%,#000095 22.73%,#00009a 25%,#0000a1 27.27%,#0000a8 29.55%,#0000b0 31.82%,#0000bb 34.09%,#0000ca 36.36%,#0000db 38.64%,#0000eb 40.91%,#0000f9 43.18%,#0005ff 45.45%,#000bff 47.73%,#000cff 50%,#000dff 52.27%,#000eff 54.55%,#000fff 56.82%,#000fff 59.09%,#0010ff 61.36%,#002eff 63.64%,#0060ff 65.91%,#0088ff 68.18%,#0091ff 70.45%,#0093ff 72.73%,#0094ff 75%,#0080ff 77.27%,#0052ff 79.55%,#0028ff 81.82%,#001aff 84.09%,#001aff 86.36%,#001dff 88.64%,#0024ff 90.91%,#0031ff 93.18%,#0035ff 95.45%,#002bff 97.73%,#0020ff 100%)"></i><i style="background:linear-gradient(90deg,#000090 0%,#000090 6.818%,#000091 9.091%,#000090 11.36%,#000090 13.64%,#00008f 15.91%,#00008f 18.18%,#000091 20.45%,#000095 22.73%,#00009a 25%,#0000a0 27.27%,#0000a7 29.55%,#0000af 31.82%,#0000b9 34.09%,#0000c7 36.36%,#0000d6 38.64%,#0000e4 40.91%,#0000f1 43.18%,#0000fb 45.45%,#0001ff 47.73%,#0003ff 50%,#0004ff 52.27%,#0005ff 54.55%,#0005ff 59.09%,#0007ff 61.36%,#0018ff 63.64%,#0034ff 65.91%,#004cff 68.18%,#0053ff 70.45%,#0055ff 72.73%,#0057ff 75%,#004cff 77.27%,#0034ff 79.55%,#001dff 81.82%,#0016ff 84.09%,#0016ff 86.36%,#0017ff 88.64%,#001aff 90.91%,#001fff 93.18%,#0020ff 95.45%,#001cff 97.73%,#0018ff 100%)"></i><i style="background:linear-gradient(90deg,#00008f 0%,#00008f 6.818%,#000090 9.091%,#00008f 11.36%,#00008f 18.18%,#000091 20.45%,#000095 22.73%,#000099 25%,#00009f 27.27%,#0000a6 29.55%,#0000ae 31.82%,#0000b7 34.09%,#0000c3 36.36%,#0000d0 38.64%,#0000dd 40.91%,#0000e7 43.18%,#0000ef 45.45%,#0000f4 47.73%,#0000f5 50%,#0000f7 52.27%,#0000f8 54.55%,#0000f9 56.82%,#0000f9 59.09%,#0000fa 61.36%,#0004ff 63.64%,#0012ff 65.91%,#001fff 68.18%,#0025ff 70.45%,#0027ff 72.73%,#0029ff 75%,#0025ff 77.27%,#001bff 79.55%,#0013ff 81.82%,#0010ff 84.09%,#0010ff 88.64%,#0011ff 90.91%,#0012ff 93.18%,#0013ff 95.45%,#0012ff 97.73%,#0010ff 100%)"></i><i style="background:linear-gradient(90deg,#00008f 0%,#00008f 18.18%,#000091 20.45%,#000094 22.73%,#000099 25%,#00009f 27.27%,#0000a5 29.55%,#0000ac 31.82%,#0000b6 34.09%,#0000c1 36.36%,#0000cc 38.64%,#0000d6 40.91%,#0000de 43.18%,#0000e4 45.45%,#0000e7 47.73%,#0000e9 50%,#0000ec 52.27%,#0000ef 54.55%,#0000f1 56.82%,#0000f2 59.09%,#0000f3 61.36%,#0000fa 63.64%,#0006ff 65.91%,#0010ff 68.18%,#0016ff 70.45%,#0017ff 72.73%,#0016ff 75%,#0013ff 77.27%,#0010ff 79.55%,#000eff 81.82%,#000dff 84.09%,#000dff 100%)"></i><i style="background:linear-gradient(90deg,#00008f 0%,#00008f 18.18%,#000091 20.45%,#000094 22.73%,#000099 25%,#00009e 27.27%,#0000a4 29.55%,#0000ab 31.82%,#0000b5 34.09%,#0000c1 36.36%,#0000cd 38.64%,#0000d5 40.91%,#0000d9 43.18%,#0000db 45.45%,#0000dd 47.73%,#0000e1 50%,#0000e7 52.27%,#0000ee 54.55%,#0000f3 56.82%,#0000f6 59.09%,#0000f9 61.36%,#0006ff 63.64%,#0015ff 65.91%,#0025ff 68.18%,#002dff 70.45%,#002eff 72.73%,#0027ff 75%,#001dff 77.27%,#0019ff 79.55%,#0019ff 81.82%,#0018ff 84.09%,#0018ff 86.36%,#0019ff 88.64%,#0019ff 100%)"></i><i style="background:linear-gradient(90deg,#00008f 0%,#00008f 18.18%,#000091 20.45%,#000094 22.73%,#000098 25%,#00009d 27.27%,#0000a3 29.55%,#0000ab 31.82%,#0000b7 34.09%,#0000c8 36.36%,#0000d8 38.64%,#0000de 40.91%,#0000db 43.18%,#0000d6 45.45%,#0000d6 47.73%,#0000de 50%,#0000ec 52.27%,#0000fc 54.55%,#000bff 56.82%,#0011ff 59.09%,#0018ff 61.36%,#002fff 63.64%,#004cff 65.91%,#0069ff 68.18%,#007cff 70.45%,#0084ff 72.73%,#007aff 75%,#0063ff 77.27%,#0059ff 79.55%,#0059ff 100%)"></i><i style="background:linear-gradient(90deg,#00008f 0%,#00008f 18.18%,#000091 20.45%,#000094 22.73%,#000098 25%,#00009c 27.27%,#0000a3 29.55%,#0000ac 31.82%,#0000bc 34.09%,#0000d6 36.36%,#0000ed 38.64%,#0000f2 40.91%,#0000e5 43.18%,#0000d6 45.45%,#0000d2 47.73%,#0000e1 50%,#0000fd 52.27%,#001eff 54.55%,#0038ff 56.82%,#0045ff 59.09%,#0052ff 61.36%,#007aff 63.64%,#00afff 65.91%,#00e0ff 68.18%,#0afff5 70.45%,#2fffd0 72.73%,#3affc5 75%,#1fffe0 77.27%,#11ffee 79.55%,#11ffee 100%)"></i><i style="background:linear-gradient(90deg,#00008f 0%,#00008f 18.18%,#000091 20.45%,#000093 22.73%,#000097 25%,#00009c 27.27%,#0000a2 29.55%,#0000ac 31.82%,#0000c2 34.09%,#0000e6 36.36%,#0008ff 38.64%,#000bff 40.91%,#0000f2 43.18%,#0000d9 45.45%,#0000d0 47.73%,#0000e7 50%,#0014ff 52.27%,#0044ff 54.55%,#006dff 56.82%,#0081ff 59.09%,#0095ff 61.36%,#00d1ff 63.64%,#20ffdf 65.91%,#69ff96 68.18%,#afff50 70.45%,#fffa00 72.73%,#ffba00 75%,#ffbd00 77.27%,#ffc600 79.55%,#ffc600 100%)"></i><i style="background:linear-gradient(90deg,#00008f 0%,#00008f 18.18%,#000090 20.45%,#000093 22.73%,#000097 25%,#00009b 27.27%,#0000a1 29.55%,#0000ac 31.82%,#0000c5 34.09%,#0000ef 36.36%,#0017ff 38.64%,#0019ff 40.91%,#0000f9 43.18%,#0000d9 45.45%,#0000cd 47.73%,#0000ea 50%,#0020ff 52.27%,#005bff 54.55%,#008dff 56.82%,#00a6ff 59.09%,#00bdff 61.36%,#06fff9 63.64%,#64ff9b 65.91%,#baff45 68.18%,#ffe900 70.45%,#ff7000 72.73%,#ff0400 75%,#e90000 77.27%,#ea0000 79.55%,#ea0000 100%)"></i><i style="background:linear-gradient(90deg,#00008f 0%,#00008f 18.18%,#000090 20.45%,#000093 22.73%,#000096 25%,#00009a 27.27%,#0000a0 29.55%,#0000aa 31.82%,#0000c2 34.09%,#0000ea 36.36%,#000fff 38.64%,#0012ff 40.91%,#0000f3 43.18%,#0000d4 45.45%,#0000c9 47.73%,#0000e5 50%,#0018ff 52.27%,#0051ff 54.55%,#0080ff 56.82%,#0097ff 59.09%,#00aeff 61.36%,#00f3ff 63.64%,#4dffb2 65.91%,#a0ff5f 68.18%,#f5ff0a 70.45%,#ff9a00 72.73%,#ff3a00 75%,#ff2a00 77.27%,#ff2d00 79.55%,#ff2d00 100%)"></i><i style="background:linear-gradient(90deg,#00008f 0%,#00008f 18.18%,#000090 20.45%,#000092 22.73%,#000096 25%,#000099 27.27%,#00009e 29.55%,#0000a7 31.82%,#0000ba 34.09%,#0000d8 36.36%,#0000f4 38.64%,#0000f7 40.91%,#0000e2 43.18%,#0000cc 45.45%,#0000c4 47.73%,#0000d8 50%,#0000fe 52.27%,#0029ff 54.55%,#004cff 56.82%,#005eff 59.09%,#006fff 61.36%,#00a3ff 63.64%,#00e8ff 65.91%,#28ffd7 68.18%,#63ff9c 70.45%,#a4ff5b 72.73%,#ccff33 75%,#bdff42 77.27%,#b0ff4f 79.55%,#b0ff4f 100%)"></i><i style="background:linear-gradient(90deg,#00008f 0%,#00008f 18.18%,#000090 20.45%,#000092 22.73%,#000095 25%,#000099 27.27%,#00009d 29.55%,#0000a4 31.82%,#0000b0 34.09%,#0000c3 36.36%,#0000d5 38.64%,#0000d8 40.91%,#0000cd 43.18%,#0000c2 45.45%,#0000be 47.73%,#0000ca 50%,#0000e1 52.27%,#0000f9 54.55%,#000fff 56.82%,#0019ff 59.09%,#0023ff 61.36%,#0044ff 63.64%,#006eff 65.91%,#0097ff 68.18%,#00b5ff 70.45%,#00cbff 72.73%,#00caff 75%,#00aeff 77.27%,#00a1ff 79.55%,#00a1ff 100%)"></i><i style="background:linear-gradient(90deg,#00008f 0%,#00008f 18.18%,#000090 20.45%,#000092 22.73%,#000095 25%,#000098 27.27%,#00009c 29.55%,#0000a1 31.82%,#0000a9 34.09%,#0000b4 36.36%,#0000be 38.64%,#0000c1 40.91%,#0000be 43.18%,#0000ba 45.45%,#0000b9 47.73%,#0000bf 50%,#0000ca 52.27%,#0000d5 54.55%,#0000df 56.82%,#0000e4 59.09%,#0000e9 61.36%,#0000fa 63.64%,#0012ff 65.91%,#0028ff 68.18%,#0036ff 70.45%,#0038ff 72.73%,#002eff 75%,#001dff 77.27%,#0016ff 79.55%,#0016ff 100%)"></i><i style="background:linear-gradient(90deg,#00008f 0%,#00008f 18.18%,#000090 20.45%,#000092 22.73%,#000094 25%,#000097 27.27%,#00009b 29.55%,#00009f 31.82%,#0000a4 34.09%,#0000aa 36.36%,#0000b0 38.64%,#0000b4 40.91%,#0000b4 43.18%,#0000b5 45.45%,#0000b6 47.73%,#0000b8 50%,#0000bd 52.27%,#0000c1 54.55%,#0000c5 56.82%,#0000c7 59.09%,#0000c9 61.36%,#0000d2 63.64%,#0000dd 65.91%,#0000e9 68.18%,#0000f0 70.45%,#0000f0 72.73%,#0000ec 75%,#0000e6 77.27%,#0000e4 79.55%,#0000e4 100%)"></i><i style="background:linear-gradient(90deg,#00008f 0%,#00008f 18.18%,#000090 20.45%,#000092 22.73%,#000094 25%,#000097 27.27%,#00009a 29.55%,#00009d 31.82%,#0000a1 34.09%,#0000a6 36.36%,#0000aa 38.64%,#0000ad 40.91%,#0000af 43.18%,#0000b1 45.45%,#0000b3 47.73%,#0000b4 50%,#0000b6 52.27%,#0000b8 54.55%,#0000ba 56.82%,#0000ba 59.09%,#0000bb 61.36%,#0000c0 63.64%,#0000c6 65.91%,#0000cd 68.18%,#0000d1 70.45%,#0000d4 72.73%,#0000d4 75%,#0000d3 77.27%,#0000d3 100%)"></i><i style="background:linear-gradient(90deg,#00008f 0%,#00008f 18.18%,#000090 20.45%,#000091 22.73%,#000093 25%,#000096 27.27%,#000099 29.55%,#00009c 31.82%,#0000a0 34.09%,#0000a3 36.36%,#0000a7 38.64%,#0000aa 40.91%,#0000ac 43.18%,#0000af 45.45%,#0000b0 47.73%,#0000b2 50%,#0000b3 52.27%,#0000b4 54.55%,#0000b5 56.82%,#0000b5 59.09%,#0000b6 61.36%,#0000b8 63.64%,#0000bc 65.91%,#0000c0 68.18%,#0000c4 70.45%,#0000c7 72.73%,#0000c8 75%,#0000c8 100%)"></i><i style="background:linear-gradient(90deg,#00008f 0%,#00008f 18.18%,#000090 20.45%,#000091 22.73%,#000093 25%,#000096 27.27%,#000098 29.55%,#00009b 31.82%,#00009f 34.09%,#0000a2 36.36%,#0000a5 38.64%,#0000a8 40.91%,#0000aa 43.18%,#0000ad 45.45%,#0000ae 47.73%,#0000af 50%,#0000b1 52.27%,#0000b1 54.55%,#0000b2 56.82%,#0000b2 59.09%,#0000b3 61.36%,#0000b4 63.64%,#0000b7 65.91%,#0000ba 68.18%,#0000bc 70.45%,#0000bf 72.73%,#0000c0 75%,#0000c0 100%)"></i><i style="background:linear-gradient(90deg,#00008f 0%,#00008f 18.18%,#000090 20.45%,#000091 22.73%,#000093 25%,#000095 27.27%,#000098 29.55%,#00009b 31.82%,#00009d 34.09%,#0000a0 36.36%,#0000a3 38.64%,#0000a6 40.91%,#0000a9 43.18%,#0000ab 45.45%,#0000ac 47.73%,#0000ae 50%,#0000af 52.27%,#0000af 54.55%,#0000b0 56.82%,#0000b0 61.36%,#0000b2 63.64%,#0000b3 65.91%,#0000b5 68.18%,#0000b7 70.45%,#0000b8 72.73%,#0000b9 75%,#0000ba 77.27%,#0000ba 100%)"></i><i style="background:linear-gradient(90deg,#00008f 0%,#00008f 18.18%,#000090 20.45%,#000091 22.73%,#000093 25%,#000095 27.27%,#000097 29.55%,#00009a 31.82%,#00009c 34.09%,#00009f 36.36%,#0000a2 38.64%,#0000a5 40.91%,#0000a7 43.18%,#0000a9 45.45%,#0000ab 47.73%,#0000ac 50%,#0000ad 52.27%,#0000ae 54.55%,#0000ae 59.09%,#0000af 61.36%,#0000af 63.64%,#0000b0 65.91%,#0000b2 68.18%,#0000b3 70.45%,#0000b4 72.73%,#0000b4 100%)"></i><i style="background:linear-gradient(90deg,#00008f 0%,#00008f 18.18%,#000090 20.45%,#000091 22.73%,#000092 25%,#000094 27.27%,#000097 29.55%,#000099 31.82%,#00009c 34.09%,#00009e 36.36%,#0000a1 38.64%,#0000a3 40.91%,#0000a6 43.18%,#0000a7 45.45%,#0000a9 47.73%,#0000aa 50%,#0000ab 52.27%,#0000ac 54.55%,#0000ad 56.82%,#0000ad 63.64%,#0000ae 65.91%,#0000af 68.18%,#0000af 70.45%,#0000b0 72.73%,#0000b0 75%,#0000b1 77.27%,#0000b1 100%)"></i></div>
<svg width="520" height="319" viewBox="0 0 520 319" fill="#1a1a1a" style="position:absolute;left:0;top:0">
<text x="0.7" y="10.6" font-size="11.1">(a)</text>
<text x="0.7" y="129" font-size="11.1">(b)</text>
<text x="262.8" y="129" font-size="11.1">(c)</text>
<text x="52.2" y="33.4" font-size="12.8">TE<tspan dx="-0.7" dy="3" font-size="8.2">0</tspan></text>
<text x="51.2" y="90.7" font-size="12.4">TM<tspan dx="-0.5" dy="3.4" font-size="8.2">0</tspan></text>
<text transform="translate(101.8 45.3) scale(0.93 1)" font-size="8.7" font-weight="bold" fill="#fff">10 µm</text>
<line x1="97.5" y1="49.5" x2="132" y2="49.5" stroke="#f2f2ff" stroke-width="1"/>
<text transform="translate(101.8 104.1) scale(0.93 1)" font-size="8.7" font-weight="bold" fill="#fff">10 µm</text>
<line x1="97.5" y1="107.5" x2="132" y2="107.5" stroke="#f2f2ff" stroke-width="1"/>
<line x1="91.0" y1="139.1" x2="91.0" y2="291.9" stroke="#e4e4e4" stroke-width="0.6"/><line x1="141.5" y1="139.1" x2="141.5" y2="291.9" stroke="#e4e4e4" stroke-width="0.6"/><line x1="191.9" y1="139.1" x2="191.9" y2="291.9" stroke="#e4e4e4" stroke-width="0.6"/><line x1="40.6" y1="177.3" x2="242.3" y2="177.3" stroke="#e4e4e4" stroke-width="0.6"/><line x1="40.6" y1="215.5" x2="242.3" y2="215.5" stroke="#e4e4e4" stroke-width="0.6"/><line x1="40.6" y1="253.7" x2="242.3" y2="253.7" stroke="#e4e4e4" stroke-width="0.6"/>
<clipPath id="cb"><rect x="40.6" y="138" width="201.7" height="154"/></clipPath>
<g clip-path="url(#cb)">
<path d="M41.1 254.3L41.3 253.2L41.6 251.6L42.0 249.8L42.3 248.2L42.6 246.8L42.8 245.6L43.0 244.3L43.4 242.8L43.9 240.9L44.5 238.8L45.1 236.8L45.7 235.1L46.3 233.8L46.8 232.8L47.4 231.9L48.0 231.2L48.7 230.6L49.5 230.0L50.3 229.6L51.1 229.7L51.7 230.2L52.2 231.2L52.8 232.3L53.4 233.5L54.1 235.0L54.9 236.6L55.7 238.1L56.5 238.9L57.2 238.9L58.0 238.2L58.8 237.3L59.5 236.6L60.3 236.1L61.1 235.6L61.8 235.2L62.6 235.1L63.4 235.2L64.2 235.6L64.9 236.1L65.7 236.3L66.5 236.3L67.3 236.2L68.1 236.0L68.8 235.8L69.4 235.6L70.0 235.3L70.5 235.1L71.1 235.1L71.7 235.4L72.2 235.8L72.8 236.5L73.4 237.4L74.0 238.5L74.5 239.8L75.1 241.3L75.7 242.8L76.3 244.4L77.0 246.1L77.7 247.7L78.3 248.9L78.8 249.7L79.3 250.2L79.8 250.5L80.3 250.5L80.8 250.2L81.4 249.6L82.0 248.9L82.6 248.2L83.3 247.4L84.1 246.6L84.9 245.8L85.7 245.1L86.5 244.6L87.2 244.2L88.0 243.9L88.8 243.5L89.5 243.2L90.3 242.8L91.1 242.4L91.8 242.0L92.6 241.5L93.4 240.8L94.2 240.2L94.9 239.7L95.6 239.2L96.1 238.7L96.7 238.3L97.2 238.2L97.8 238.3L98.4 238.6L99.0 239.1L99.5 239.7L100.1 240.3L100.6 241.1L101.2 241.9L101.8 242.8L102.6 243.8L103.3 244.9L104.1 246.0L104.9 246.6L105.7 246.8L106.5 246.6L107.2 246.2L108.0 245.8L108.8 245.5L109.6 245.1L110.4 244.7L111.1 244.3L111.6 243.8L112.1 243.3L112.5 242.9L113.1 242.8L113.8 243.0L114.5 243.6L115.4 244.3L116.2 245.1L116.9 246.0L117.6 247.2L118.4 248.2L119.2 248.9L120.3 249.1L121.5 249.0L122.8 248.6L123.8 248.2L124.7 247.6L125.5 246.8L126.2 246.0L126.9 245.1L127.7 244.1L128.4 243.1L129.2 242.1L130.0 241.2L130.9 240.4L131.9 239.5L132.9 238.8L133.8 238.5L134.8 238.5L135.8 239.0L136.8 239.6L137.7 240.5L138.5 241.6L139.3 242.9L140.0 244.4L140.8 245.8L141.5 247.5L142.2 249.3L142.9 250.7L143.5 251.2L144.2 250.5L144.8 248.9L145.5 246.9L146.2 245.1L146.9 243.3L147.6 241.4L148.4 239.7L149.2 238.2L150.1 236.9L151.1 235.8L152.1 235.1L153.1 234.8L154.1 235.0L155.0 235.8L156.0 236.8L156.9 238.2L157.7 239.7L158.5 241.5L159.2 243.6L160.0 245.8L160.8 248.4L161.6 251.1L162.4 254.0L163.1 256.6L163.7 259.2L164.2 261.6L164.6 263.9L165.1 265.8L165.5 267.5L165.9 268.9L166.2 269.8L166.6 270.0L167.0 269.4L167.4 268.0L167.8 266.2L168.2 264.3L168.5 262.2L168.9 259.7L169.3 257.3L169.7 255.1L170.1 253.3L170.5 251.9L171.0 250.4L171.5 248.9L172.2 247.2L173.0 245.3L173.8 243.5L174.6 242.0L175.6 240.8L176.6 239.7L177.6 238.8L178.5 238.2L179.0 237.7L179.2 237.4L179.5 237.3L180.0 237.4L180.8 237.6L181.8 238.1L182.9 238.7L183.8 239.7L184.7 241.2L185.5 243.0L186.2 244.9L186.9 246.6L187.6 248.1L188.3 249.5L189.0 250.7L189.7 251.2L190.5 251.1L191.3 250.3L192.2 249.3L193.1 248.2L194.0 246.9L195.0 245.5L196.0 244.0L196.9 242.8L197.9 241.7L198.8 240.8L199.8 240.0L200.8 239.7L201.7 239.9L202.7 240.5L203.7 241.3L204.6 242.0L205.6 242.7L206.5 243.5L207.5 244.2L208.5 244.6L209.4 244.6L210.4 244.3L211.3 243.9L212.3 243.5L213.3 243.2L214.3 242.8L215.2 242.3L216.2 242.0L217.0 241.7L217.7 241.4L218.4 241.2L219.2 241.2L220.1 241.5L221.1 241.9L222.1 242.3L223.1 242.8L224.0 243.2L225.0 243.6L226.0 243.9L226.9 244.3L227.9 244.7L228.8 245.1L229.8 245.4L230.8 245.5L231.7 245.4L232.7 245.1L233.7 244.7L234.6 244.3L235.6 244.0L236.5 243.6L237.5 243.2L238.5 242.8L239.5 242.2L240.7 241.5L241.7 240.9L242.5 240.5" fill="none" stroke="#1f4a94" stroke-width="1.10" stroke-linejoin="round"/>
<path d="M41.1 227.4L41.3 228.4L41.7 229.7L42.2 231.5L42.6 233.5L43.1 236.5L43.5 240.3L44.0 243.6L44.5 245.1L44.9 244.0L45.4 241.1L45.9 237.8L46.5 235.1L47.0 233.3L47.6 231.9L48.2 230.7L48.8 229.7L49.4 228.7L50.1 227.8L50.8 227.3L51.5 227.4L52.2 228.2L52.9 229.6L53.5 231.5L54.2 233.5L54.7 236.0L55.2 238.8L55.7 241.7L56.2 244.3L56.6 246.8L57.0 249.4L57.3 251.3L57.7 252.0L58.1 250.9L58.4 248.4L58.8 245.5L59.2 242.8L59.7 240.3L60.1 237.8L60.6 235.4L61.1 233.5L61.6 232.1L62.2 230.9L62.8 230.2L63.4 230.2L64.0 231.0L64.6 232.5L65.2 234.5L65.7 236.6L66.1 239.1L66.5 242.0L66.9 244.9L67.2 247.4L67.5 249.5L67.8 251.5L68.0 252.9L68.3 253.2L68.6 252.1L68.9 249.9L69.2 247.1L69.5 244.3L69.9 241.3L70.4 237.8L70.9 234.6L71.4 232.0L71.9 230.2L72.5 229.0L73.1 228.3L73.7 228.2L74.3 228.7L75.0 229.9L75.6 231.6L76.2 233.5L76.7 236.0L77.2 239.0L77.6 241.9L78.0 244.3L78.3 246.2L78.6 247.8L78.9 248.8L79.2 248.9L79.5 247.9L79.9 246.0L80.2 243.7L80.6 241.2L81.1 238.6L81.7 235.6L82.3 232.7L82.9 230.5L83.6 228.8L84.4 227.4L85.2 226.7L86.0 226.6L86.7 227.5L87.5 229.1L88.1 231.2L88.8 233.5L89.3 236.4L89.8 239.7L90.2 243.0L90.6 245.8L91.0 248.4L91.3 250.9L91.6 252.6L91.8 253.2L92.1 252.2L92.4 250.0L92.7 247.2L93.1 244.3L93.5 241.3L94.0 237.8L94.6 234.6L95.2 232.0L95.9 230.2L96.7 228.9L97.5 228.2L98.3 228.2L99.0 229.0L99.8 230.7L100.5 232.8L101.1 235.1L101.6 237.8L102.1 240.9L102.5 244.0L102.9 246.6L103.3 248.9L103.6 250.9L103.9 252.4L104.2 252.8L104.4 251.8L104.7 249.8L105.0 247.1L105.4 244.3L105.9 241.0L106.5 237.1L107.2 233.4L108.0 230.5L108.8 228.3L109.8 226.7L110.7 225.8L111.5 225.8L112.2 227.1L112.8 229.4L113.3 232.2L113.8 235.1L114.4 238.1L115.1 241.5L115.7 244.7L116.2 247.4L116.5 249.5L116.8 251.4L117.1 252.6L117.4 252.8L117.7 251.7L117.9 249.6L118.2 247.0L118.6 244.3L119.1 241.5L119.6 238.2L120.2 235.2L120.8 232.8L121.4 231.0L122.1 229.7L122.8 229.0L123.5 228.9L124.2 229.5L124.9 230.8L125.5 232.7L126.2 235.1L126.8 238.4L127.4 242.6L127.9 246.9L128.5 250.5L128.9 253.5L129.3 256.4L129.6 258.4L130.0 258.9L130.4 257.5L130.7 254.6L131.1 251.0L131.5 247.4L132.0 243.6L132.6 239.3L133.2 235.2L133.8 232.0L134.7 229.8L135.6 228.2L136.5 227.4L137.4 227.4L138.1 228.4L138.8 230.3L139.4 232.6L140.0 235.1L140.5 237.7L141.0 240.7L141.4 243.5L141.8 245.8L142.2 247.7L142.5 249.3L142.8 250.3L143.1 250.5L143.4 249.5L143.8 247.5L144.2 245.1L144.6 242.8L145.1 240.3L145.7 237.5L146.3 234.9L146.9 232.8L147.7 231.1L148.5 229.7L149.4 228.9L150.3 228.9L151.2 229.9L152.1 231.6L153.0 233.9L153.8 236.6L154.7 240.0L155.5 244.0L156.2 248.2L156.9 252.0L157.5 256.0L158.0 260.2L158.5 263.4L158.9 264.3L159.4 262.1L159.9 257.6L160.3 252.2L160.8 247.4L161.2 243.2L161.5 238.9L161.9 235.1L162.3 232.0L162.8 229.8L163.4 228.3L164.0 227.5L164.6 227.4L165.3 228.0L166.1 229.5L166.9 231.4L167.7 233.5L168.4 236.2L169.1 239.4L169.7 242.5L170.3 245.1L170.9 247.2L171.4 249.0L171.8 250.2L172.3 250.5L172.8 249.5L173.2 247.7L173.7 245.3L174.2 242.8L174.7 240.0L175.2 236.8L175.8 233.7L176.5 231.2L177.3 229.3L178.2 227.8L179.1 226.8L180.0 226.6L180.9 227.4L181.8 228.9L182.7 231.1L183.5 233.5L184.3 236.6L184.9 240.2L185.5 244.0L186.2 247.4L186.8 250.8L187.5 254.4L188.2 257.2L188.8 258.2L189.3 256.8L189.8 253.6L190.3 249.6L190.8 245.8L191.3 242.1L191.8 238.1L192.4 234.3L193.1 231.2L193.9 229.0L194.7 227.2L195.6 226.2L196.5 225.8L197.3 226.5L198.0 227.9L198.8 229.9L199.5 232.0L200.3 234.5L201.0 237.4L201.7 240.3L202.3 242.8L202.8 244.8L203.2 246.5L203.5 247.7L203.8 248.2L204.2 247.5L204.6 246.0L204.9 244.1L205.4 242.0L205.9 239.6L206.4 236.9L207.0 234.2L207.7 232.0L208.5 230.2L209.4 228.6L210.3 227.5L211.2 227.4L212.1 228.2L213.0 229.9L213.8 232.2L214.6 235.1L215.4 238.9L216.2 243.6L217.0 248.3L217.7 252.0L218.3 254.7L218.9 256.9L219.4 258.2L220.0 258.2L220.6 256.4L221.1 253.2L221.7 249.5L222.3 245.8L222.9 242.3L223.6 238.5L224.3 234.9L225.1 232.0L226.0 229.8L227.1 228.0L228.2 226.9L229.2 226.6L230.2 227.3L231.1 228.9L232.0 231.0L232.8 233.5L233.5 236.6L234.2 240.3L234.8 244.0L235.4 247.4L235.9 250.6L236.5 253.9L236.9 256.4L237.4 257.4L237.8 256.3L238.2 253.7L238.5 250.4L238.9 247.4L239.4 244.6L239.8 241.7L240.3 238.9L240.8 236.6L241.2 234.8L241.7 233.2L242.2 232.1L242.5 231.2" fill="none" stroke="#58b8ea" stroke-width="1.10" stroke-linejoin="round"/>
<path d="M41.1 248.2L41.5 246.8L42.1 244.9L42.8 242.9L43.4 241.2L44.0 240.0L44.6 238.9L45.2 238.1L45.7 237.4L46.1 236.9L46.5 236.6L46.8 236.5L47.2 236.6L47.7 237.0L48.1 237.7L48.6 238.6L49.1 239.7L49.6 240.9L50.0 242.4L50.6 244.0L51.1 245.8L51.6 247.9L52.2 250.2L52.8 252.6L53.4 255.1L53.9 257.7L54.4 260.5L54.8 263.3L55.2 265.8L55.6 268.6L55.9 271.4L56.2 273.5L56.5 274.3L56.7 273.3L57.0 270.9L57.3 267.7L57.5 264.3L57.8 260.5L58.1 256.0L58.4 251.5L58.8 247.4L59.1 243.9L59.4 240.7L59.8 237.8L60.3 235.1L61.0 232.6L61.7 230.3L62.5 228.3L63.4 226.6L64.3 225.2L65.3 224.1L66.3 223.4L67.2 223.1L68.2 223.2L69.2 223.8L70.2 224.7L71.1 225.8L71.9 227.4L72.7 229.3L73.5 231.4L74.2 233.5L74.8 235.8L75.4 238.2L75.9 240.6L76.5 242.8L77.0 245.0L77.4 247.2L77.9 249.0L78.3 249.7L78.7 248.9L79.1 247.1L79.4 244.8L79.8 242.8L80.3 240.9L80.8 239.1L81.3 237.3L81.8 235.8L82.4 234.7L82.9 233.7L83.5 233.1L84.2 232.8L84.9 232.9L85.7 233.5L86.5 234.3L87.2 235.1L87.9 235.9L88.4 236.9L89.0 237.9L89.5 238.9L90.1 240.1L90.7 241.4L91.3 242.4L91.8 242.8L92.3 242.2L92.7 240.9L93.1 239.4L93.7 238.2L94.5 237.1L95.4 236.0L96.3 235.3L97.2 235.1L98.1 235.6L98.8 236.8L99.6 238.2L100.3 239.7L101.0 241.3L101.6 243.2L102.1 245.0L102.6 246.6L103.1 248.0L103.4 249.4L103.8 250.3L104.2 250.5L104.5 249.7L104.9 248.2L105.3 246.3L105.7 244.3L106.1 242.1L106.6 239.5L107.1 237.0L107.5 235.1L108.0 233.7L108.5 232.8L109.0 232.2L109.5 232.0L110.1 232.1L110.6 232.6L111.2 233.3L111.8 234.3L112.5 235.9L113.2 238.0L113.9 239.8L114.6 240.5L115.2 239.7L115.8 237.9L116.4 235.6L116.9 233.5L117.5 231.6L118.0 229.6L118.6 227.6L119.2 225.8L120.0 224.2L120.8 222.8L121.6 221.5L122.3 220.5L122.9 219.7L123.5 219.3L124.0 219.0L124.6 218.9L125.3 219.0L126.1 219.4L126.9 219.8L127.7 220.5L128.6 221.2L129.6 222.2L130.6 223.2L131.5 224.3L132.5 225.4L133.6 226.6L134.5 227.8L135.4 228.9L136.1 230.0L136.6 231.0L137.2 231.9L137.7 232.8L138.3 233.6L138.8 234.3L139.4 234.9L140.0 235.1L140.6 234.9L141.1 234.3L141.7 233.6L142.3 232.8L143.0 231.9L143.6 231.0L144.4 230.0L145.4 228.9L146.7 227.8L148.4 226.5L150.0 225.3L151.5 224.3L152.8 223.6L153.9 223.0L155.0 222.5L156.2 222.0L157.3 221.3L158.6 220.5L159.7 219.9L160.8 219.7L161.7 220.0L162.5 220.8L163.2 221.8L163.8 222.8L164.5 223.8L165.0 224.9L165.6 226.1L166.2 227.4L166.7 228.7L167.3 230.1L167.8 231.6L168.5 233.5L169.2 236.0L170.0 238.8L170.8 241.7L171.5 244.3L172.2 246.5L172.8 248.5L173.3 250.4L173.8 252.0L174.3 253.6L174.7 255.2L175.0 256.3L175.4 256.6L175.8 255.8L176.2 254.1L176.5 252.1L176.9 250.5L177.3 249.2L177.8 248.2L178.2 247.3L178.5 246.6L178.5 246.4L178.3 246.5L178.2 246.7L178.5 246.6L179.2 246.2L180.2 245.7L181.3 245.0L182.3 244.3L183.2 243.5L184.0 242.6L184.7 241.6L185.4 240.5L185.9 239.2L186.4 237.8L186.8 236.4L187.2 235.1L187.7 233.9L188.1 232.9L188.6 231.8L189.2 230.5L190.0 228.7L190.9 226.6L192.0 224.5L193.1 222.8L194.3 221.3L195.7 220.0L197.1 219.0L198.5 218.5L199.8 218.5L201.2 218.9L202.6 219.6L203.8 220.5L205.1 221.4L206.2 222.5L207.3 223.7L208.5 225.1L209.6 226.6L210.8 228.2L212.0 230.1L213.1 232.0L214.1 234.1L215.1 236.3L216.0 238.7L216.9 241.2L217.8 244.2L218.6 247.5L219.3 250.7L220.0 253.5L220.6 255.9L221.1 258.0L221.6 259.8L222.0 261.2L222.3 262.3L222.6 263.0L222.8 263.4L223.1 263.5L223.4 263.3L223.8 262.8L224.2 262.1L224.6 261.2L225.1 260.3L225.7 259.4L226.3 258.1L226.9 256.6L227.5 254.6L228.1 252.1L228.7 249.6L229.2 247.4L229.8 245.5L230.3 243.8L230.9 242.3L231.5 241.2L232.3 240.7L233.0 240.7L233.8 240.7L234.6 240.5L235.4 239.8L236.2 239.0L237.0 238.2L237.7 237.4L238.3 236.7L238.9 236.1L239.4 235.6L240.0 235.1L240.7 234.6L241.4 234.2L242.0 233.8L242.5 233.5" fill="none" stroke="#f0a24e" stroke-width="1.10" stroke-linejoin="round"/>
</g>
<path d="M40.60 139.1V291.9H242.30" fill="none" stroke="#383838" stroke-width="0.7"/><path d="M40.60 139.1H242.30V291.9" fill="none" stroke="#6a6a6a" stroke-width="0.6"/><path d="M40.6 291.9v-2.3M40.6 139.1v2.3M40.6 139.1h2.3M242.3 139.1h-2.3M91.0 291.9v-2.3M91.0 139.1v2.3M40.6 177.3h2.3M242.3 177.3h-2.3M141.5 291.9v-2.3M141.5 139.1v2.3M40.6 215.5h2.3M242.3 215.5h-2.3M191.9 291.9v-2.3M191.9 139.1v2.3M40.6 253.7h2.3M242.3 253.7h-2.3M242.3 291.9v-2.3M242.3 139.1v2.3M40.6 291.9h2.3M242.3 291.9h-2.3" stroke="#383838" stroke-width="0.7" fill="none"/>
<line x1="40.6" y1="139.1" x2="242.3" y2="139.1" stroke="#de4846" stroke-width="1.3"/>
<text transform="translate(40.9 303.9) scale(1.1 1)" text-anchor="middle" font-size="7.8">1400</text><text transform="translate(91.3 303.9) scale(1.1 1)" text-anchor="middle" font-size="7.8">1500</text><text transform="translate(141.8 303.9) scale(1.1 1)" text-anchor="middle" font-size="7.8">1600</text><text transform="translate(192.2 303.9) scale(1.1 1)" text-anchor="middle" font-size="7.8">1700</text><text transform="translate(242.6 303.9) scale(1.1 1)" text-anchor="middle" font-size="7.8">1800</text><text transform="translate(37.0 142.1) scale(1.1 1)" text-anchor="end" font-size="7.8">0</text><text transform="translate(37.0 180.3) scale(1.1 1)" text-anchor="end" font-size="7.8">-20</text><text transform="translate(37.0 218.5) scale(1.1 1)" text-anchor="end" font-size="7.8">-40</text><text transform="translate(37.0 256.7) scale(1.1 1)" text-anchor="end" font-size="7.8">-60</text><text transform="translate(37.0 294.9) scale(1.1 1)" text-anchor="end" font-size="7.8">-80</text><text transform="translate(140.5 315.6) scale(1.07 1)" text-anchor="middle" font-size="8.8">Wavelength (nm)</text><text transform="translate(20.9 215.2) rotate(-90) scale(1.12 1)" text-anchor="middle" font-size="8.9">Transmission (dB)</text>
<rect x="173.5" y="143.8" width="64.4" height="51.8" fill="#fff" stroke="#444" stroke-width="0.7"/><line x1="176.0" y1="150.9" x2="193.4" y2="150.9" stroke="#de4846" stroke-width="1"/><text x="195.6" y="153.0" font-size="8.2" font-style="italic">T<tspan dx="0.4" dy="3.1" font-size="5.8">TE0-TE0 thr</tspan></text><line x1="176.0" y1="163.4" x2="193.4" y2="163.4" stroke="#1f4a94" stroke-width="1"/><text x="195.6" y="165.5" font-size="8.2" font-style="italic">T<tspan dx="0.4" dy="3.1" font-size="5.8">TE0-TE0 cro</tspan></text><line x1="176.0" y1="176.0" x2="193.4" y2="176.0" stroke="#58b8ea" stroke-width="1"/><text x="195.6" y="178.1" font-size="8.2" font-style="italic">T<tspan dx="0.4" dy="3.1" font-size="5.8">TE0-TM0 thr</tspan></text><line x1="176.0" y1="188.5" x2="193.4" y2="188.5" stroke="#f0a24e" stroke-width="1"/><text x="195.6" y="190.6" font-size="8.2" font-style="italic">T<tspan dx="0.4" dy="3.1" font-size="5.8">TE0-TM0 cro</tspan></text>
<line x1="359.2" y1="139.1" x2="359.2" y2="291.9" stroke="#e4e4e4" stroke-width="0.6"/><line x1="409.6" y1="139.1" x2="409.6" y2="291.9" stroke="#e4e4e4" stroke-width="0.6"/><line x1="459.9" y1="139.1" x2="459.9" y2="291.9" stroke="#e4e4e4" stroke-width="0.6"/><line x1="308.9" y1="177.3" x2="510.3" y2="177.3" stroke="#e4e4e4" stroke-width="0.6"/><line x1="308.9" y1="215.5" x2="510.3" y2="215.5" stroke="#e4e4e4" stroke-width="0.6"/><line x1="308.9" y1="253.7" x2="510.3" y2="253.7" stroke="#e4e4e4" stroke-width="0.6"/>
<clipPath id="cc"><rect x="308.9" y="138" width="201.4" height="154"/></clipPath>
<g clip-path="url(#cc)">
<path d="M309.0 163.8L311.0 164.4L313.9 165.4L317.1 166.5L320.0 167.5L322.6 168.4L325.1 169.4L327.5 170.3L330.0 171.2L332.5 172.1L335.0 173.0L337.5 173.8L340.0 174.5L342.5 175.2L345.0 175.8L347.5 176.3L350.0 176.8L352.5 177.1L355.0 177.5L357.5 177.7L360.0 178.0L362.5 178.3L365.0 178.6L367.5 178.8L370.0 179.0L372.5 179.1L375.0 179.2L377.5 179.2L380.0 179.3L382.5 179.4L385.0 179.5L387.5 179.6L390.0 179.6L392.5 179.5L395.0 179.3L397.5 179.2L400.0 179.0L402.5 178.8L405.0 178.7L407.5 178.6L410.0 178.5L412.5 178.6L415.0 178.7L417.5 178.8L420.0 179.0L422.5 179.1L425.0 179.3L427.5 179.5L430.0 179.6L432.5 179.7L435.0 179.8L437.5 179.9L440.0 180.0L442.4 180.1L444.7 180.2L447.1 180.2L450.0 180.2L453.5 180.1L457.5 180.1L461.5 179.9L465.0 179.7L467.9 179.4L470.5 179.0L472.8 178.6L475.0 178.2L476.9 177.9L478.6 177.5L480.2 177.2L482.0 176.8L483.9 176.3L485.8 175.8L487.8 175.3L490.0 174.7L492.4 174.1L495.1 173.5L497.8 172.8L500.4 172.2L503.1 171.5L506.0 170.8L508.5 170.1L510.3 169.7" fill="none" stroke="#58b8ea" stroke-width="1.25" stroke-linejoin="round"/>
<path d="M308.8 208.5L309.0 210.2L309.3 212.6L309.6 216.0L309.9 220.8L310.2 228.9L310.4 239.5L310.7 248.9L311.0 253.1L311.3 249.7L311.7 241.3L312.0 231.4L312.4 223.8L312.7 219.3L313.1 216.0L313.4 213.5L313.8 211.5L314.1 210.0L314.4 209.2L314.7 208.9L315.0 209.2L315.3 210.2L315.6 211.7L315.9 213.7L316.2 216.2L316.5 219.0L316.8 222.3L317.1 225.9L317.3 230.0L317.5 235.5L317.8 242.2L318.0 247.8L318.2 250.0L318.5 247.4L318.8 241.4L319.0 234.4L319.3 228.5L319.6 224.0L319.8 220.0L320.1 216.3L320.4 213.1L320.7 210.3L321.1 208.0L321.5 206.1L321.9 204.6L322.3 203.5L322.7 202.9L323.1 202.6L323.5 202.6L323.9 203.1L324.4 204.0L324.8 205.1L325.3 206.2L325.8 207.2L326.3 208.4L326.8 209.5L327.3 210.0L327.7 209.8L328.1 209.1L328.5 208.3L328.8 207.7L329.2 207.3L329.6 207.0L330.0 206.8L330.4 206.9L330.8 207.3L331.2 207.9L331.6 208.8L331.9 210.0L332.2 211.6L332.5 213.5L332.8 215.6L333.2 217.7L333.5 220.0L333.8 222.4L334.2 224.8L334.5 226.9L334.8 228.9L335.1 230.8L335.4 232.3L335.8 233.1L336.1 232.6L336.5 231.1L336.9 229.7L337.3 229.2L337.8 230.5L338.5 232.8L339.1 235.0L339.6 236.2L340.1 235.7L340.4 234.2L340.8 232.4L341.2 230.8L341.5 229.5L341.8 228.2L342.2 226.9L342.7 225.4L343.4 223.6L344.1 221.7L345.0 219.7L345.8 217.7L346.6 215.7L347.4 213.6L348.1 211.7L348.8 210.0L349.5 208.6L350.1 207.4L350.6 206.5L351.2 205.7L351.6 205.1L352.0 204.7L352.3 204.5L352.7 204.6L353.1 205.0L353.4 205.6L353.8 206.5L354.2 207.7L354.7 209.3L355.1 211.3L355.6 213.5L356.1 215.4L356.6 217.3L357.1 219.3L357.6 220.9L358.1 221.5L358.5 220.8L358.9 219.0L359.3 216.9L359.6 215.4L359.9 214.4L360.2 213.7L360.5 213.2L360.8 213.1L361.3 213.5L361.8 214.3L362.2 215.3L362.7 216.2L363.1 217.0L363.5 217.8L363.9 218.4L364.2 218.5L364.5 217.7L364.8 216.3L365.1 214.7L365.5 213.1L365.9 211.5L366.3 209.9L366.8 208.3L367.3 206.9L367.9 205.7L368.5 204.5L369.1 203.6L369.6 203.1L370.1 203.2L370.6 203.8L371.0 204.6L371.5 205.4L371.9 206.5L372.2 207.8L372.6 208.9L373.0 209.2L373.4 208.6L373.7 207.2L374.1 205.5L374.5 203.8L375.0 202.1L375.5 200.2L376.0 198.5L376.5 197.7L377.0 197.9L377.5 198.8L378.0 200.1L378.5 201.5L379.0 203.0L379.5 204.8L380.0 206.6L380.4 208.5L380.7 210.7L381.0 213.1L381.2 215.2L381.5 216.2L381.9 215.5L382.3 213.8L382.7 211.7L383.1 210.0L383.5 208.7L383.8 207.5L384.2 206.6L384.6 206.2L385.1 206.3L385.5 207.0L386.0 208.0L386.5 209.2L386.9 210.8L387.3 212.6L387.6 214.7L388.0 216.9L388.3 219.4L388.7 222.0L389.0 224.6L389.2 226.9L389.5 229.0L389.6 231.0L389.8 232.5L390.0 233.1L390.2 232.5L390.4 231.1L390.5 229.1L390.8 226.9L391.0 224.4L391.3 221.4L391.7 218.5L392.0 216.2L392.4 214.5L392.7 213.3L393.1 212.3L393.5 211.5L393.9 210.8L394.4 210.2L394.8 209.9L395.4 210.0L396.1 210.6L396.8 211.6L397.7 212.8L398.5 213.8L399.2 215.1L400.0 216.4L400.8 217.5L401.5 217.7L402.3 216.7L403.1 214.9L403.8 212.7L404.6 210.8L405.4 209.1L406.2 207.3L407.0 205.8L407.7 204.6L408.3 204.0L408.9 203.7L409.4 203.7L410.0 203.8L410.6 204.2L411.1 204.8L411.7 205.3L412.3 205.4L413.0 204.8L413.8 203.8L414.5 202.6L415.4 201.5L416.3 200.5L417.3 199.5L418.3 198.7L419.2 198.5L420.1 199.0L420.8 200.1L421.6 201.6L422.3 203.1L423.1 204.9L423.8 207.1L424.6 209.0L425.4 210.0L426.2 209.4L427.0 207.8L427.7 206.2L428.5 205.4L429.1 205.8L429.7 206.9L430.3 208.4L430.8 210.0L431.2 211.5L431.6 213.2L432.0 215.2L432.3 217.7L432.6 220.8L432.9 224.2L433.1 228.3L433.4 233.1L433.6 239.9L433.8 248.4L434.0 255.6L434.2 258.9L434.3 256.4L434.5 249.9L434.7 242.2L434.9 236.2L435.2 232.2L435.4 229.1L435.8 226.4L436.2 223.8L436.7 221.5L437.3 219.5L437.9 217.8L438.5 216.2L439.0 214.7L439.4 213.5L439.8 212.5L440.3 211.5L440.8 210.6L441.3 209.7L441.8 209.1L442.3 209.2L442.9 210.3L443.4 212.0L444.0 214.1L444.6 216.2L445.2 218.7L445.8 221.6L446.3 224.0L446.9 224.6L447.5 222.8L448.0 219.2L448.6 215.0L449.2 211.5L449.9 208.6L450.7 205.8L451.5 203.6L452.3 202.3L453.1 202.4L453.9 203.6L454.7 205.2L455.4 206.9L455.9 208.7L456.4 210.8L456.8 212.9L457.2 214.6L457.6 216.1L457.9 217.4L458.1 218.2L458.5 218.5L458.8 217.7L459.2 216.2L459.6 214.5L460.0 213.1L460.4 212.0L460.7 211.1L461.1 210.4L461.5 210.0L462.1 210.0L462.7 210.3L463.3 210.8L463.8 211.5L464.3 212.4L464.7 213.4L465.1 214.6L465.4 216.2L465.7 217.7L466.0 219.4L466.2 221.8L466.5 225.4L466.7 230.7L466.9 237.3L467.1 244.5L467.2 251.5L467.4 259.8L467.5 269.1L467.6 276.7L467.7 279.8L467.8 276.7L467.9 269.1L468.0 259.8L468.2 251.5L468.3 244.5L468.5 237.3L468.7 230.7L468.9 225.4L469.2 221.8L469.4 219.5L469.7 217.8L470.0 216.2L470.3 214.4L470.7 213.0L471.1 211.8L471.5 210.8L472.1 210.1L472.6 209.7L473.3 209.5L473.8 209.2L474.4 209.1L475.0 209.0L475.5 208.9L476.2 208.5L476.9 207.7L477.6 206.7L478.4 205.6L479.2 204.6L480.2 203.6L481.2 202.5L482.2 201.5L483.1 200.8L483.9 200.3L484.7 200.1L485.4 200.0L486.2 200.0L486.9 200.2L487.6 200.5L488.4 200.8L489.2 200.8L490.2 200.4L491.2 199.7L492.2 199.0L493.1 198.5L493.9 198.1L494.7 197.8L495.4 197.6L496.2 197.7L496.9 198.0L497.7 198.5L498.5 199.1L499.2 200.0L500.0 201.2L500.8 202.6L501.6 204.1L502.3 205.4L502.9 206.6L503.5 207.7L504.0 208.7L504.6 209.2L505.3 209.3L506.1 208.9L506.9 208.3L507.7 207.7L508.4 207.0L509.2 206.1L509.8 205.2L510.3 204.6" fill="none" stroke="#f0a24e" stroke-width="1.15" stroke-linejoin="round"/>
<path d="M308.8 195.8L309.8 196.3L311.3 197.0L312.8 197.8L314.2 198.5L315.4 199.0L316.6 199.6L317.7 200.1L318.8 200.5L320.0 200.7L321.2 200.9L322.3 201.0L323.5 201.1L324.6 201.2L325.8 201.3L326.9 201.4L328.1 201.5L329.2 201.7L330.4 201.9L331.6 202.1L332.7 202.3L333.7 202.5L334.7 202.6L335.6 202.8L336.5 203.1L337.4 203.5L338.1 204.1L338.9 204.7L339.6 205.4L340.4 206.2L341.2 207.0L341.9 207.8L342.7 208.5L343.5 208.9L344.2 209.1L345.0 209.2L345.8 209.2L346.6 209.1L347.4 208.8L348.1 208.5L348.8 208.5L349.5 208.6L350.0 209.0L350.6 209.5L351.2 210.0L351.7 210.7L352.3 211.6L352.9 212.5L353.5 213.1L354.0 213.3L354.6 213.4L355.1 213.3L355.8 213.1L356.5 212.6L357.3 211.8L358.1 211.1L358.8 210.8L359.6 211.0L360.4 211.6L361.2 212.3L361.9 213.1L362.7 213.8L363.5 214.7L364.2 215.5L365.0 216.2L365.8 216.5L366.5 216.6L367.3 216.7L368.1 216.9L368.8 217.4L369.6 217.9L370.3 218.5L371.2 219.2L372.1 220.1L373.0 221.1L374.0 222.1L375.0 223.1L376.0 224.0L377.0 225.0L377.9 226.0L378.8 226.9L379.7 227.9L380.4 228.9L381.2 229.9L381.9 230.8L382.7 231.5L383.6 232.1L384.3 232.6L385.0 233.1L385.4 233.3L385.7 233.3L386.0 233.4L386.6 233.8L387.5 234.4L388.7 235.2L389.9 236.4L391.0 238.2L391.9 240.9L392.8 244.4L393.5 248.0L394.3 251.3L395.0 254.5L395.7 257.8L396.4 260.3L397.1 261.2L397.7 259.7L398.4 256.4L399.0 252.6L399.7 249.1L400.5 246.1L401.3 243.0L402.2 240.3L403.0 238.2L403.8 237.1L404.6 236.7L405.5 236.5L406.3 236.0L407.2 235.0L408.0 233.9L408.9 232.7L409.6 231.6L410.1 230.6L410.6 229.6L411.0 228.6L411.5 227.5L412.2 226.2L412.9 224.8L413.7 223.5L414.6 222.6L415.5 222.2L416.4 222.1L417.4 222.1L418.5 222.3L419.8 222.6L421.2 223.1L422.6 223.6L423.8 223.8L424.6 223.7L425.0 223.3L425.5 222.9L426.2 222.6L427.2 222.4L428.5 222.2L429.7 222.0L430.8 222.0L431.7 222.1L432.4 222.3L433.1 222.6L433.8 223.1L434.6 223.8L435.4 224.6L436.2 225.7L436.9 226.9L437.6 228.4L438.2 230.1L438.7 232.0L439.2 234.0L439.6 236.1L439.8 238.4L440.0 240.7L440.3 243.0L440.6 245.3L440.9 247.6L441.2 249.9L441.6 252.0L442.0 254.3L442.5 256.8L443.1 258.6L443.6 259.0L444.1 257.3L444.6 254.1L445.2 250.3L445.8 246.9L446.5 243.9L447.4 241.0L448.2 238.2L449.1 236.0L449.9 234.3L450.8 233.0L451.6 232.1L452.4 231.6L453.2 231.7L454.1 232.4L454.9 233.1L455.7 233.3L456.5 232.7L457.4 231.7L458.2 230.5L458.9 229.4L459.5 228.3L459.9 227.2L460.3 226.2L460.8 225.4L461.3 224.8L461.9 224.4L462.5 224.2L463.1 224.2L463.7 224.6L464.2 225.2L464.8 226.0L465.4 226.9L466.0 227.9L466.5 229.1L467.1 230.4L467.7 231.5L468.3 232.7L468.8 233.8L469.4 234.8L470.0 235.4L470.7 235.3L471.5 234.7L472.3 234.1L473.1 233.8L473.9 233.9L474.7 234.3L475.5 234.8L476.2 235.4L476.8 236.0L477.3 236.7L477.8 237.5L478.3 238.5L478.8 239.6L479.3 240.8L479.8 242.2L480.4 243.6L481.1 245.2L482.0 247.1L482.8 248.8L483.7 250.2L484.5 251.2L485.4 251.9L486.2 252.3L487.0 252.4L487.8 252.1L488.6 251.4L489.5 250.4L490.3 249.1L491.1 247.4L492.0 245.4L492.8 243.3L493.6 241.4L494.4 239.8L495.2 238.3L496.1 237.0L496.9 236.0L497.7 235.2L498.5 234.6L499.3 234.3L500.2 234.2L501.2 234.4L502.4 234.8L503.6 235.4L504.6 236.0L505.5 236.6L506.4 237.3L507.2 238.0L507.9 238.6L508.6 239.1L509.3 239.7L509.9 240.1L510.3 240.4" fill="none" stroke="#de4846" stroke-width="1.25" stroke-linejoin="round"/>
</g>
<path d="M308.85 139.1V291.9H510.30" fill="none" stroke="#383838" stroke-width="0.7"/><path d="M308.85 139.1H510.30V291.9" fill="none" stroke="#6a6a6a" stroke-width="0.6"/><path d="M308.9 291.9v-2.3M308.9 139.1v2.3M308.9 139.1h2.3M510.3 139.1h-2.3M359.2 291.9v-2.3M359.2 139.1v2.3M308.9 177.3h2.3M510.3 177.3h-2.3M409.6 291.9v-2.3M409.6 139.1v2.3M308.9 215.5h2.3M510.3 215.5h-2.3M459.9 291.9v-2.3M459.9 139.1v2.3M308.9 253.7h2.3M510.3 253.7h-2.3M510.3 291.9v-2.3M510.3 139.1v2.3M308.9 291.9h2.3M510.3 291.9h-2.3" stroke="#383838" stroke-width="0.7" fill="none"/>
<path d="M309.0 143.0L310.1 142.8L311.7 142.5L313.4 142.3L315.0 142.0L316.2 141.8L317.2 141.7L318.4 141.5L320.0 141.3L322.1 141.0L324.7 140.8L327.4 140.5L330.0 140.2L332.5 140.0L335.0 139.8L337.5 139.6L340.0 139.5L341.6 139.4L342.5 139.3L344.7 139.3L350.0 139.2L359.7 139.2L372.5 139.1L386.6 139.1L400.0 139.1L412.7 139.1L425.6 139.1L438.2 139.1L450.0 139.1L461.4 139.1L472.5 139.1L482.3 139.2L490.0 139.2L494.6 139.3L496.9 139.4L498.2 139.5L500.0 139.5L502.8 139.5L505.8 139.4L508.4 139.3L510.3 139.2" fill="none" stroke="#263c72" stroke-width="1.15" stroke-linejoin="round"/>
<text transform="translate(309.2 303.9) scale(1.1 1)" text-anchor="middle" font-size="7.8">1400</text><text transform="translate(359.5 303.9) scale(1.1 1)" text-anchor="middle" font-size="7.8">1500</text><text transform="translate(409.9 303.9) scale(1.1 1)" text-anchor="middle" font-size="7.8">1600</text><text transform="translate(460.2 303.9) scale(1.1 1)" text-anchor="middle" font-size="7.8">1700</text><text transform="translate(510.6 303.9) scale(1.1 1)" text-anchor="middle" font-size="7.8">1800</text><text transform="translate(305.2 142.1) scale(1.1 1)" text-anchor="end" font-size="7.8">0</text><text transform="translate(305.2 180.3) scale(1.1 1)" text-anchor="end" font-size="7.8">-20</text><text transform="translate(305.2 218.5) scale(1.1 1)" text-anchor="end" font-size="7.8">-40</text><text transform="translate(305.2 256.7) scale(1.1 1)" text-anchor="end" font-size="7.8">-60</text><text transform="translate(305.2 294.9) scale(1.1 1)" text-anchor="end" font-size="7.8">-80</text><text transform="translate(408.6 315.6) scale(1.07 1)" text-anchor="middle" font-size="8.8">Wavelength (nm)</text><text transform="translate(288.0 215.2) rotate(-90) scale(1.12 1)" text-anchor="middle" font-size="8.9">Transmission (dB)</text>
<rect x="313.8" y="234.9" width="63.6" height="52.1" fill="#fff" stroke="#444" stroke-width="0.7"/><line x1="316.6" y1="242.5" x2="332.6" y2="242.5" stroke="#de4846" stroke-width="1"/><text x="334.6" y="244.6" font-size="8.2" font-style="italic">T<tspan dx="0.4" dy="3.1" font-size="5.8">TM0-TE0 thr</tspan></text><line x1="316.6" y1="254.8" x2="332.6" y2="254.8" stroke="#1f4a94" stroke-width="1"/><text x="334.6" y="256.9" font-size="8.2" font-style="italic">T<tspan dx="0.4" dy="3.1" font-size="5.8">TM0-TE0 cro</tspan></text><line x1="316.6" y1="267.3" x2="332.6" y2="267.3" stroke="#58b8ea" stroke-width="1"/><text x="334.6" y="269.4" font-size="8.2" font-style="italic">T<tspan dx="0.4" dy="3.1" font-size="5.8">TM0-TM0 thr</tspan></text><line x1="316.6" y1="279.8" x2="332.6" y2="279.8" stroke="#f0a24e" stroke-width="1"/><text x="334.6" y="281.9" font-size="8.2" font-style="italic">T<tspan dx="0.4" dy="3.1" font-size="5.8">TM0-TM0 cro</tspan></text>
</svg>
</body></html>
